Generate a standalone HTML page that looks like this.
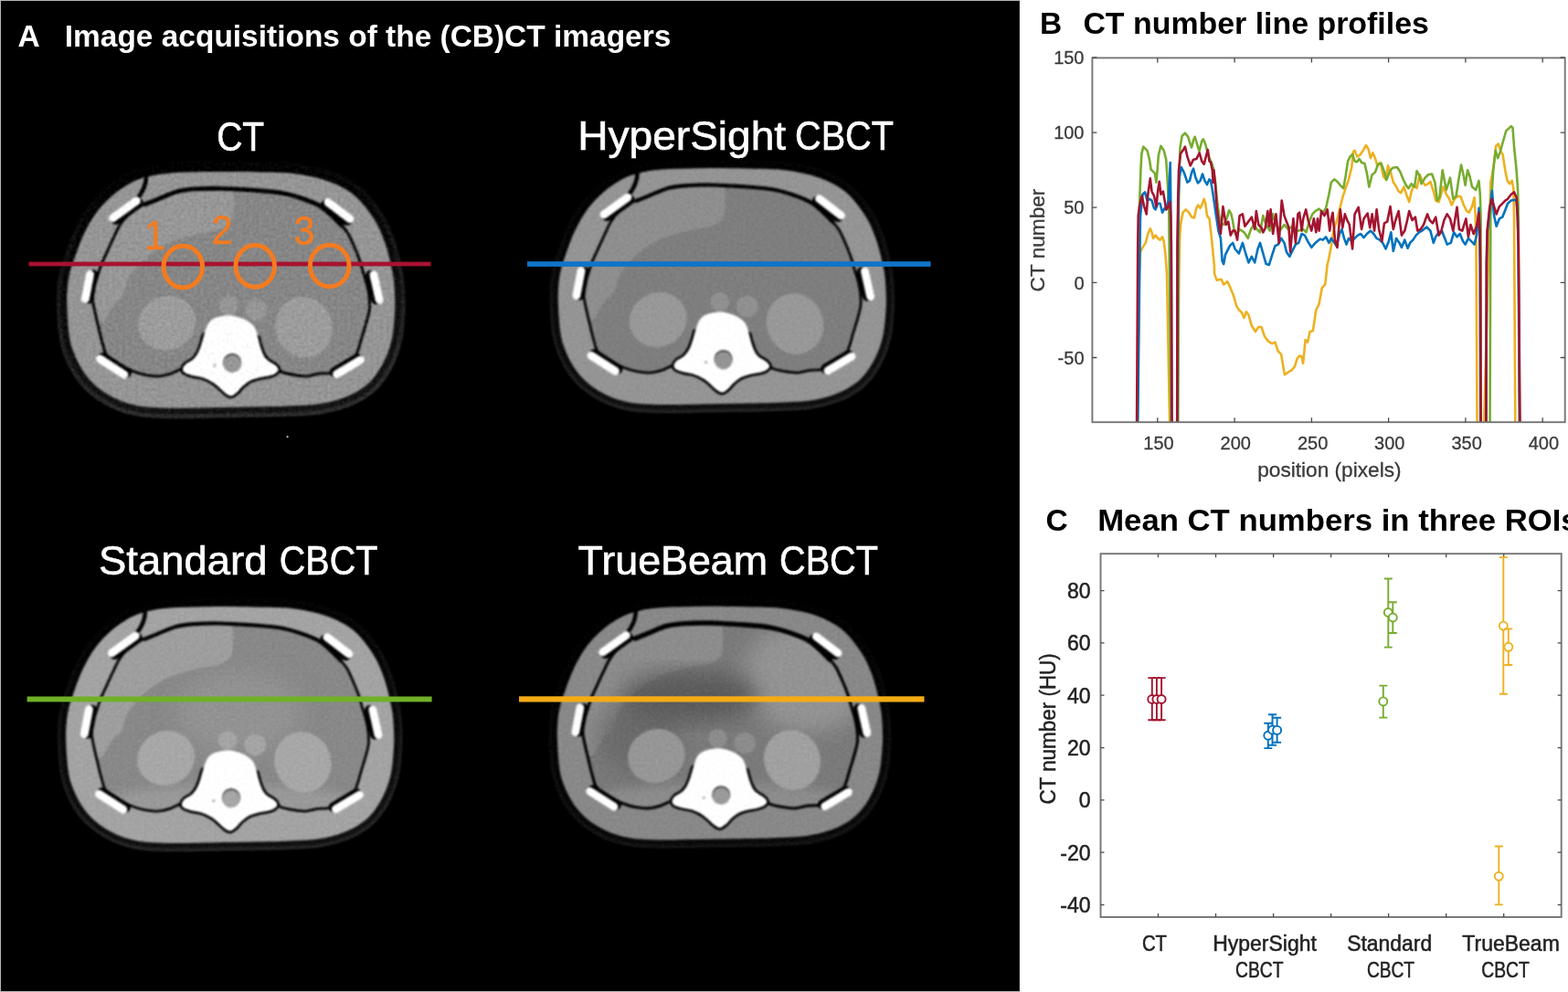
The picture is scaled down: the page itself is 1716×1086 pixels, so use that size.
<!DOCTYPE html>
<html lang="en"><head><meta charset="utf-8"><title>CT number comparison of (CB)CT imagers</title>
<style>html,body{margin:0;padding:0;background:#fff;}body{width:1716px;height:1086px;overflow:hidden;}svg{display:block;}text{font-family:"Liberation Sans",sans-serif;}.tb{font-weight:bold;}.tk{font-size:20px;fill:#3a3a3a;stroke:#3a3a3a;stroke-width:0.3px;}.lb{font-size:22.5px;fill:#3a3a3a;stroke:#3a3a3a;stroke-width:0.3px;}.ck{font-size:23px;fill:#222;stroke:#222;stroke-width:0.5px;}</style></head><body>
<svg width="1716" height="1086" viewBox="0 0 1716 1086">
<defs>
<filter id="pb1" x="-5%" y="-5%" width="110%" height="110%" color-interpolation-filters="sRGB"><feGaussianBlur stdDeviation="0.85" result="b"/><feTurbulence type="fractalNoise" baseFrequency="0.28" numOctaves="2" seed="3" result="t"/><feColorMatrix in="t" type="matrix" values="0.6 0.4 0 0 0  0.6 0.4 0 0 0  0.6 0.4 0 0 0  0 0 0 0 1" result="n"/><feComposite in="b" in2="n" operator="arithmetic" k1="0" k2="1" k3="0.17" k4="-0.085" result="c"/><feComposite in="c" in2="b" operator="in"/></filter>
<filter id="pb2" x="-5%" y="-5%" width="110%" height="110%" color-interpolation-filters="sRGB"><feGaussianBlur stdDeviation="0.85" result="b"/><feTurbulence type="fractalNoise" baseFrequency="0.3" numOctaves="2" seed="7" result="t"/><feColorMatrix in="t" type="matrix" values="0.6 0.4 0 0 0  0.6 0.4 0 0 0  0.6 0.4 0 0 0  0 0 0 0 1" result="n"/><feComposite in="b" in2="n" operator="arithmetic" k1="0" k2="1" k3="0.09" k4="-0.045" result="c"/><feComposite in="c" in2="b" operator="in"/></filter>
<filter id="pb3" x="-5%" y="-5%" width="110%" height="110%" color-interpolation-filters="sRGB"><feGaussianBlur stdDeviation="0.85" result="b"/><feTurbulence type="fractalNoise" baseFrequency="0.3" numOctaves="2" seed="11" result="t"/><feColorMatrix in="t" type="matrix" values="0.6 0.4 0 0 0  0.6 0.4 0 0 0  0.6 0.4 0 0 0  0 0 0 0 1" result="n"/><feComposite in="b" in2="n" operator="arithmetic" k1="0" k2="1" k3="0.09" k4="-0.045" result="c"/><feComposite in="c" in2="b" operator="in"/></filter>
<filter id="pb4" x="-5%" y="-5%" width="110%" height="110%" color-interpolation-filters="sRGB"><feGaussianBlur stdDeviation="0.95" result="b"/><feTurbulence type="fractalNoise" baseFrequency="0.3" numOctaves="2" seed="17" result="t"/><feColorMatrix in="t" type="matrix" values="0.6 0.4 0 0 0  0.6 0.4 0 0 0  0.6 0.4 0 0 0  0 0 0 0 1" result="n"/><feComposite in="b" in2="n" operator="arithmetic" k1="0" k2="1" k3="0.09" k4="-0.045" result="c"/><feComposite in="c" in2="b" operator="in"/></filter>
<filter id="soft" x="-20%" y="-20%" width="140%" height="140%" color-interpolation-filters="sRGB"><feGaussianBlur stdDeviation="12"/></filter>
<filter id="soft2" x="-20%" y="-20%" width="140%" height="140%" color-interpolation-filters="sRGB"><feGaussianBlur stdDeviation="6"/></filter>
<linearGradient id="halo1" x1="0" y1="0" x2="0.2" y2="1"><stop offset="0" stop-color="#000"/><stop offset="0.3" stop-color="#101010"/><stop offset="1" stop-color="#2c2c2c"/></linearGradient>
<linearGradient id="halo2" x1="0" y1="0" x2="0.2" y2="1"><stop offset="0" stop-color="#000"/><stop offset="0.3" stop-color="#0a0a0a"/><stop offset="1" stop-color="#222"/></linearGradient>
<linearGradient id="halo3" x1="0" y1="0" x2="0.2" y2="1"><stop offset="0" stop-color="#000"/><stop offset="0.3" stop-color="#0b0b0b"/><stop offset="1" stop-color="#242424"/></linearGradient>
<linearGradient id="halo4" x1="0" y1="0" x2="0.2" y2="1"><stop offset="0" stop-color="#000"/><stop offset="0.3" stop-color="#040404"/><stop offset="1" stop-color="#141414"/></linearGradient>
<clipPath id="cpB"><rect x="1196" y="64" width="516" height="398"/></clipPath>
</defs>
<rect width="1716" height="1086" fill="#fff"/>
<rect x="0" y="0" width="1116" height="1086" fill="#b4b4b4"/>
<rect x="1" y="1" width="1114.8" height="1084" fill="#000"/>
<circle cx="314.6" cy="478.2" r="1.1" fill="#bbb"/>
<g transform="translate(-537.5 3.8)" filter="url(#pb1)">
<clipPath id="in1"><path d="M690 222C693.1 220.1 693.3 221 696.7 219.7C700.1 218.4 704.8 216.5 710.5 214.2C716.2 211.9 724.3 207.8 731.2 205.9C738.1 204.1 743.8 203.7 751.9 203.1C760 202.5 771.6 202.4 779.6 202.5C787.6 202.6 793.7 203.2 800 203.5C806.3 203.8 810.1 203.9 817.6 204.5C825.1 205.1 837.1 205.9 845.2 207.3C853.3 208.7 859.1 210.5 866 212.8C872.9 215.1 881 217.9 886.7 221.1C892.5 224.3 896.4 228.5 900.5 232.2C904.6 235.9 908.5 239.9 911.5 243.2C914.5 246.5 916.2 248.1 918.5 252C920.8 255.9 923.3 261.9 925.4 266.7C927.5 271.4 929.3 275.9 930.9 280.5C932.5 285.1 933.6 289.7 935 294.3C936.4 298.9 938.1 303.8 939.2 308.1C940.3 312.4 941 315.5 941.5 320C942 324.5 942.5 329.7 941.9 334.9C941.3 340.1 939.2 346.3 937.8 351.4C936.4 356.4 935 360.6 933.6 365.2C932.2 369.8 931.1 375 929.5 379.1C927.9 383.2 928.1 385.9 924 390C919.9 394.1 911.2 400.9 905 403.5C898.8 406.1 892.1 404.5 886.7 405.3C881.4 406.1 877.5 407.9 872.9 408.1C868.3 408.3 863.7 407.5 859.1 406.7C854.5 405.9 848.4 404.5 845.2 403.2C842 401.9 845 399.4 840 399C835 398.6 827.5 400.7 815 401C802.5 401.3 777.8 401.2 765 401C752.2 400.8 745.3 399.3 738.5 400C731.7 400.7 729 403.9 724.3 405.3C719.6 406.7 715.1 407.9 710.5 408.1C705.9 408.3 701.3 407.6 696.7 406.7C692.1 405.8 687.2 404.2 682.9 402.5C678.6 400.8 675.6 399.2 671 396.5C666.4 393.8 658.5 390.1 655 386C651.5 381.9 651.3 377.3 649.7 372.2C648.1 367.1 647 361.4 645.6 355.6C644.2 349.8 642.5 342.9 641.4 337.6C640.3 332.3 639.2 328.4 639 323.8C638.8 319.2 639.4 313.5 640 310C640.6 306.5 641.4 306.6 642.8 302.6C644.2 298.6 646.2 291.3 648.3 286C650.4 280.7 652.9 275.9 655.2 270.8C657.5 265.7 659.9 260.4 662.2 255.6C664.5 250.8 666.5 245.9 669.1 241.8C671.7 237.7 674.5 234.3 678 231C681.5 227.7 686.9 223.9 690 222Z"/></clipPath>
<clipPath id="bd1"><path d="M610.8 330C610.5 321.2 611 315.8 611.5 310C612 304.2 612.8 299.9 614 295C615.2 290.1 616 287.4 618.5 280.5C621 273.6 624.8 262.1 628.8 253.6C632.8 245 637.7 236.2 642.8 229.2C647.9 222.2 653.3 216.6 659.2 211.4C665.1 206.2 671.9 201.4 678.2 197.8C684.5 194.2 689.5 192 697.2 190C704.9 188 712.9 186.6 724.3 185.6C735.7 184.6 753.1 184.4 765.7 184.2C778.3 184 789 184.1 800 184.2C811 184.3 821.5 184.5 831.4 184.8C841.2 185.1 849.9 185.1 859.1 186.2C868.3 187.3 878.7 189.3 886.7 191.4C894.8 193.5 901 195.9 907.4 199C913.8 202.1 920.1 205.7 925.4 210.1C930.7 214.5 935.1 219.9 939.2 225.2C943.3 230.5 947 235.8 950.2 241.8C953.4 247.8 956.2 254.8 958.5 261.2C960.8 267.6 962.4 273.8 964 280.5C965.6 287.2 967.3 294.6 968.2 301.2C969.1 307.8 969.4 313.9 969.6 320C969.8 326.1 970.1 330.1 969.6 337.6C969.1 345.1 968.4 356.9 966.8 365.2C965.2 373.5 962.9 380.4 959.9 387.3C956.9 394.2 952.9 401.2 948.8 406.7C944.6 412.2 940.8 416.4 935 420.5C929.2 424.6 922.3 428.5 914.3 431.5C906.2 434.5 898.2 436.9 886.7 438.5C875.2 440.1 861.3 440.4 845.2 441C829.1 441.6 807.9 441.7 790 442C772.1 442.3 752.5 442.9 738.1 443C723.7 443.1 713.3 443.1 703.6 442.3C693.9 441.6 687.5 440.5 680.1 438.5C672.7 436.5 665.9 433.7 659.4 430.2C652.9 426.7 646.7 422.5 641.4 417.7C636.1 412.9 631.5 407.2 627.6 401.2C623.7 395.2 620.4 388.2 618 381.8C615.6 375.4 614.3 371.1 613.1 362.5C611.9 353.9 611.1 338.8 610.8 330Z"/></clipPath>
<path d="M610.8 330C610.5 321.2 611 315.8 611.5 310C612 304.2 612.8 299.9 614 295C615.2 290.1 616 287.4 618.5 280.5C621 273.6 624.8 262.1 628.8 253.6C632.8 245 637.7 236.2 642.8 229.2C647.9 222.2 653.3 216.6 659.2 211.4C665.1 206.2 671.9 201.4 678.2 197.8C684.5 194.2 689.5 192 697.2 190C704.9 188 712.9 186.6 724.3 185.6C735.7 184.6 753.1 184.4 765.7 184.2C778.3 184 789 184.1 800 184.2C811 184.3 821.5 184.5 831.4 184.8C841.2 185.1 849.9 185.1 859.1 186.2C868.3 187.3 878.7 189.3 886.7 191.4C894.8 193.5 901 195.9 907.4 199C913.8 202.1 920.1 205.7 925.4 210.1C930.7 214.5 935.1 219.9 939.2 225.2C943.3 230.5 947 235.8 950.2 241.8C953.4 247.8 956.2 254.8 958.5 261.2C960.8 267.6 962.4 273.8 964 280.5C965.6 287.2 967.3 294.6 968.2 301.2C969.1 307.8 969.4 313.9 969.6 320C969.8 326.1 970.1 330.1 969.6 337.6C969.1 345.1 968.4 356.9 966.8 365.2C965.2 373.5 962.9 380.4 959.9 387.3C956.9 394.2 952.9 401.2 948.8 406.7C944.6 412.2 940.8 416.4 935 420.5C929.2 424.6 922.3 428.5 914.3 431.5C906.2 434.5 898.2 436.9 886.7 438.5C875.2 440.1 861.3 440.4 845.2 441C829.1 441.6 807.9 441.7 790 442C772.1 442.3 752.5 442.9 738.1 443C723.7 443.1 713.3 443.1 703.6 442.3C693.9 441.6 687.5 440.5 680.1 438.5C672.7 436.5 665.9 433.7 659.4 430.2C652.9 426.7 646.7 422.5 641.4 417.7C636.1 412.9 631.5 407.2 627.6 401.2C623.7 395.2 620.4 388.2 618 381.8C615.6 375.4 614.3 371.1 613.1 362.5C611.9 353.9 611.1 338.8 610.8 330Z" fill="none" stroke="url(#halo1)" stroke-width="24" stroke-linejoin="round"/>
<path d="M610.8 330C610.5 321.2 611 315.8 611.5 310C612 304.2 612.8 299.9 614 295C615.2 290.1 616 287.4 618.5 280.5C621 273.6 624.8 262.1 628.8 253.6C632.8 245 637.7 236.2 642.8 229.2C647.9 222.2 653.3 216.6 659.2 211.4C665.1 206.2 671.9 201.4 678.2 197.8C684.5 194.2 689.5 192 697.2 190C704.9 188 712.9 186.6 724.3 185.6C735.7 184.6 753.1 184.4 765.7 184.2C778.3 184 789 184.1 800 184.2C811 184.3 821.5 184.5 831.4 184.8C841.2 185.1 849.9 185.1 859.1 186.2C868.3 187.3 878.7 189.3 886.7 191.4C894.8 193.5 901 195.9 907.4 199C913.8 202.1 920.1 205.7 925.4 210.1C930.7 214.5 935.1 219.9 939.2 225.2C943.3 230.5 947 235.8 950.2 241.8C953.4 247.8 956.2 254.8 958.5 261.2C960.8 267.6 962.4 273.8 964 280.5C965.6 287.2 967.3 294.6 968.2 301.2C969.1 307.8 969.4 313.9 969.6 320C969.8 326.1 970.1 330.1 969.6 337.6C969.1 345.1 968.4 356.9 966.8 365.2C965.2 373.5 962.9 380.4 959.9 387.3C956.9 394.2 952.9 401.2 948.8 406.7C944.6 412.2 940.8 416.4 935 420.5C929.2 424.6 922.3 428.5 914.3 431.5C906.2 434.5 898.2 436.9 886.7 438.5C875.2 440.1 861.3 440.4 845.2 441C829.1 441.6 807.9 441.7 790 442C772.1 442.3 752.5 442.9 738.1 443C723.7 443.1 713.3 443.1 703.6 442.3C693.9 441.6 687.5 440.5 680.1 438.5C672.7 436.5 665.9 433.7 659.4 430.2C652.9 426.7 646.7 422.5 641.4 417.7C636.1 412.9 631.5 407.2 627.6 401.2C623.7 395.2 620.4 388.2 618 381.8C615.6 375.4 614.3 371.1 613.1 362.5C611.9 353.9 611.1 338.8 610.8 330Z" fill="none" stroke="#000" stroke-opacity="0.55" stroke-width="13.2" stroke-linejoin="round"/>
<path d="M610.8 330C610.5 321.2 611 315.8 611.5 310C612 304.2 612.8 299.9 614 295C615.2 290.1 616 287.4 618.5 280.5C621 273.6 624.8 262.1 628.8 253.6C632.8 245 637.7 236.2 642.8 229.2C647.9 222.2 653.3 216.6 659.2 211.4C665.1 206.2 671.9 201.4 678.2 197.8C684.5 194.2 689.5 192 697.2 190C704.9 188 712.9 186.6 724.3 185.6C735.7 184.6 753.1 184.4 765.7 184.2C778.3 184 789 184.1 800 184.2C811 184.3 821.5 184.5 831.4 184.8C841.2 185.1 849.9 185.1 859.1 186.2C868.3 187.3 878.7 189.3 886.7 191.4C894.8 193.5 901 195.9 907.4 199C913.8 202.1 920.1 205.7 925.4 210.1C930.7 214.5 935.1 219.9 939.2 225.2C943.3 230.5 947 235.8 950.2 241.8C953.4 247.8 956.2 254.8 958.5 261.2C960.8 267.6 962.4 273.8 964 280.5C965.6 287.2 967.3 294.6 968.2 301.2C969.1 307.8 969.4 313.9 969.6 320C969.8 326.1 970.1 330.1 969.6 337.6C969.1 345.1 968.4 356.9 966.8 365.2C965.2 373.5 962.9 380.4 959.9 387.3C956.9 394.2 952.9 401.2 948.8 406.7C944.6 412.2 940.8 416.4 935 420.5C929.2 424.6 922.3 428.5 914.3 431.5C906.2 434.5 898.2 436.9 886.7 438.5C875.2 440.1 861.3 440.4 845.2 441C829.1 441.6 807.9 441.7 790 442C772.1 442.3 752.5 442.9 738.1 443C723.7 443.1 713.3 443.1 703.6 442.3C693.9 441.6 687.5 440.5 680.1 438.5C672.7 436.5 665.9 433.7 659.4 430.2C652.9 426.7 646.7 422.5 641.4 417.7C636.1 412.9 631.5 407.2 627.6 401.2C623.7 395.2 620.4 388.2 618 381.8C615.6 375.4 614.3 371.1 613.1 362.5C611.9 353.9 611.1 338.8 610.8 330Z" fill="#959595"/>
<g clip-path="url(#bd1)"></g>
<path d="M690 222C693.1 220.1 693.3 221 696.7 219.7C700.1 218.4 704.8 216.5 710.5 214.2C716.2 211.9 724.3 207.8 731.2 205.9C738.1 204.1 743.8 203.7 751.9 203.1C760 202.5 771.6 202.4 779.6 202.5C787.6 202.6 793.7 203.2 800 203.5C806.3 203.8 810.1 203.9 817.6 204.5C825.1 205.1 837.1 205.9 845.2 207.3C853.3 208.7 859.1 210.5 866 212.8C872.9 215.1 881 217.9 886.7 221.1C892.5 224.3 896.4 228.5 900.5 232.2C904.6 235.9 908.5 239.9 911.5 243.2C914.5 246.5 916.2 248.1 918.5 252C920.8 255.9 923.3 261.9 925.4 266.7C927.5 271.4 929.3 275.9 930.9 280.5C932.5 285.1 933.6 289.7 935 294.3C936.4 298.9 938.1 303.8 939.2 308.1C940.3 312.4 941 315.5 941.5 320C942 324.5 942.5 329.7 941.9 334.9C941.3 340.1 939.2 346.3 937.8 351.4C936.4 356.4 935 360.6 933.6 365.2C932.2 369.8 931.1 375 929.5 379.1C927.9 383.2 928.1 385.9 924 390C919.9 394.1 911.2 400.9 905 403.5C898.8 406.1 892.1 404.5 886.7 405.3C881.4 406.1 877.5 407.9 872.9 408.1C868.3 408.3 863.7 407.5 859.1 406.7C854.5 405.9 848.4 404.5 845.2 403.2C842 401.9 845 399.4 840 399C835 398.6 827.5 400.7 815 401C802.5 401.3 777.8 401.2 765 401C752.2 400.8 745.3 399.3 738.5 400C731.7 400.7 729 403.9 724.3 405.3C719.6 406.7 715.1 407.9 710.5 408.1C705.9 408.3 701.3 407.6 696.7 406.7C692.1 405.8 687.2 404.2 682.9 402.5C678.6 400.8 675.6 399.2 671 396.5C666.4 393.8 658.5 390.1 655 386C651.5 381.9 651.3 377.3 649.7 372.2C648.1 367.1 647 361.4 645.6 355.6C644.2 349.8 642.5 342.9 641.4 337.6C640.3 332.3 639.2 328.4 639 323.8C638.8 319.2 639.4 313.5 640 310C640.6 306.5 641.4 306.6 642.8 302.6C644.2 298.6 646.2 291.3 648.3 286C650.4 280.7 652.9 275.9 655.2 270.8C657.5 265.7 659.9 260.4 662.2 255.6C664.5 250.8 666.5 245.9 669.1 241.8C671.7 237.7 674.5 234.3 678 231C681.5 227.7 686.9 223.9 690 222Z" fill="#868686"/>
<g clip-path="url(#in1)">
<path d="M789.5 198C795.1 203.9 793.2 218.3 793.4 225.2C793.6 232 792.9 235.4 790.6 239.1C788.3 242.8 786.1 245 779.6 247.3C773.1 249.6 761.1 250.6 751.9 252.9C742.7 255.2 732.3 257.8 724.3 261.2C716.2 264.6 709.6 269.2 703.6 273.6C697.6 278 692.8 282.6 688.4 287.4C684 292.2 680.1 297.2 677.3 302.6C674.5 308 674.3 315.6 671.8 320C669.3 324.4 665 325.6 662.2 329C659.4 332.4 657.4 337.1 655.2 340.4C653 343.7 653.2 347.1 649 349C644.8 350.9 633.2 378.5 630 352C626.8 325.5 608.3 217 630 190C651.7 163 733.4 188.7 760 190C786.6 191.3 783.9 192.1 789.5 198Z" fill="#979797"/>

<ellipse cx="720.2" cy="350" rx="32" ry="29.5" fill="#9c9c9c" transform="rotate(-25 720.2 350)"/>
<ellipse cx="870" cy="354.5" rx="31" ry="33.5" fill="#9c9c9c" transform="rotate(-20 870 354.5)"/>
<circle cx="787.8" cy="330.5" r="10.4" fill="#969696"/>
<circle cx="817.8" cy="335.6" r="11.8" fill="#969696"/>
</g>
<path d="M690 222C693.1 220.1 693.3 221 696.7 219.7C700.1 218.4 704.8 216.5 710.5 214.2C716.2 211.9 724.3 207.8 731.2 205.9C738.1 204.1 743.8 203.7 751.9 203.1C760 202.5 771.6 202.4 779.6 202.5C787.6 202.6 793.7 203.2 800 203.5C806.3 203.8 810.1 203.9 817.6 204.5C825.1 205.1 837.1 205.9 845.2 207.3C853.3 208.7 859.1 210.5 866 212.8C872.9 215.1 881 217.9 886.7 221.1C892.5 224.3 896.4 228.5 900.5 232.2C904.6 235.9 908.5 239.9 911.5 243.2C914.5 246.5 916.2 248.1 918.5 252C920.8 255.9 923.3 261.9 925.4 266.7C927.5 271.4 929.3 275.9 930.9 280.5C932.5 285.1 933.6 289.7 935 294.3C936.4 298.9 938.1 303.8 939.2 308.1C940.3 312.4 941 315.5 941.5 320C942 324.5 942.5 329.7 941.9 334.9C941.3 340.1 939.2 346.3 937.8 351.4C936.4 356.4 935 360.6 933.6 365.2C932.2 369.8 931.1 375 929.5 379.1C927.9 383.2 928.1 385.9 924 390C919.9 394.1 911.2 400.9 905 403.5C898.8 406.1 892.1 404.5 886.7 405.3C881.4 406.1 877.5 407.9 872.9 408.1C868.3 408.3 863.7 407.5 859.1 406.7C854.5 405.9 848.4 404.5 845.2 403.2C842 401.9 845 399.4 840 399C835 398.6 827.5 400.7 815 401C802.5 401.3 777.8 401.2 765 401C752.2 400.8 745.3 399.3 738.5 400C731.7 400.7 729 403.9 724.3 405.3C719.6 406.7 715.1 407.9 710.5 408.1C705.9 408.3 701.3 407.6 696.7 406.7C692.1 405.8 687.2 404.2 682.9 402.5C678.6 400.8 675.6 399.2 671 396.5C666.4 393.8 658.5 390.1 655 386C651.5 381.9 651.3 377.3 649.7 372.2C648.1 367.1 647 361.4 645.6 355.6C644.2 349.8 642.5 342.9 641.4 337.6C640.3 332.3 639.2 328.4 639 323.8C638.8 319.2 639.4 313.5 640 310C640.6 306.5 641.4 306.6 642.8 302.6C644.2 298.6 646.2 291.3 648.3 286C650.4 280.7 652.9 275.9 655.2 270.8C657.5 265.7 659.9 260.4 662.2 255.6C664.5 250.8 666.5 245.9 669.1 241.8C671.7 237.7 674.5 234.3 678 231C681.5 227.7 686.9 223.9 690 222Z" fill="none" stroke="#000" stroke-width="3" stroke-linejoin="round"/>
<path d="M696.7 219.7C699 218.8 704.8 216.5 710.5 214.2C716.2 211.9 724.3 207.8 731.2 205.9C738.1 204.1 743.8 203.7 751.9 203.1C760 202.5 771.6 202.4 779.6 202.5C787.6 202.6 793.7 203.2 800 203.5C806.3 203.8 810.1 203.9 817.6 204.5C825.1 205.1 837.1 205.9 845.2 207.3C853.3 208.7 859.1 210.5 866 212.8C872.9 215.1 881 217.9 886.7 221.1C892.5 224.3 896.4 228.5 900.5 232.2C904.6 235.9 909.7 241.4 911.5 243.2" fill="none" stroke="#000" stroke-width="4.8" stroke-linecap="round"/>
<path d="M697.5 189.5C697.5 198 694.5 205 688.5 213" fill="none" stroke="#000" stroke-width="4.6" stroke-linecap="round"/>
<path d="M664.2 236.6L689.2 218.6" stroke="#000" stroke-width="11" stroke-linecap="round" fill="none"/>
<path d="M894.3 220L917.3 237.5" stroke="#000" stroke-width="11" stroke-linecap="round" fill="none"/>
<path d="M639.4 297.1L634.4 323.1" stroke="#000" stroke-width="11" stroke-linecap="round" fill="none"/>
<path d="M943.1 297.6L949.1 324.1" stroke="#000" stroke-width="11" stroke-linecap="round" fill="none"/>
<path d="M650.4 387.7L675.9 404.2" stroke="#000" stroke-width="11" stroke-linecap="round" fill="none"/>
<path d="M903.6 403.7L928.6 388.7" stroke="#000" stroke-width="11" stroke-linecap="round" fill="none"/>
<path d="M661 234.9L687 216.1" stroke="#fff" stroke-width="8.8" stroke-linecap="round" fill="none"/>
<path d="M896.5 217.6L920.5 235.9" stroke="#fff" stroke-width="8.8" stroke-linecap="round" fill="none"/>
<path d="M636.1 296.4L630.9 323.6" stroke="#fff" stroke-width="8.8" stroke-linecap="round" fill="none"/>
<path d="M946.4 296.9L952.6 324.6" stroke="#fff" stroke-width="8.8" stroke-linecap="round" fill="none"/>
<path d="M647 389.2L673.5 406.3" stroke="#fff" stroke-width="8.8" stroke-linecap="round" fill="none"/>
<path d="M906 405.8L932 390.2" stroke="#fff" stroke-width="8.8" stroke-linecap="round" fill="none"/>
<path d="M819.8 366C820.1 367.3 820.9 371.2 821.8 374C822.7 376.8 823.7 380.3 825 383C826.3 385.7 827.2 387.8 829.5 390C831.8 392.2 836.9 394.4 839 396.3C841.1 398.2 842.2 400 842 401.5C841.8 403 839.8 404.4 838 405.5C836.2 406.6 834.4 407.1 831.4 407.8C828.4 408.6 823.5 409.1 820 410C816.5 410.9 813.5 411.8 810.7 413.3C807.9 414.8 805.3 417 803 419C800.7 421 799.1 423.7 797 425.5C794.9 427.3 792.7 429.4 790.5 429.6C788.3 429.8 786.2 428.1 784 426.5C781.8 424.9 779.4 422 777 420C774.6 418 772.9 416.3 769.9 414.5C766.9 412.7 762.4 410.6 758.8 409.4C755.1 408.2 751.2 408.2 748 407.3C744.8 406.4 741.2 405.2 739.5 404C737.8 402.8 737.4 401.4 737.6 399.8C737.9 398.2 739.2 396.2 741 394.6C742.8 393 746.3 391.9 748.5 390C750.7 388.1 752.4 385.8 754 383C755.6 380.2 756.9 376.3 758 373C759.1 369.7 760.3 364.7 760.8 363" fill="none" stroke="#000" stroke-width="5.6" stroke-linejoin="round" stroke-linecap="round"/>
<path d="M772.7 344.5C775 343.6 778 342.8 781 342.3C784 341.8 786.7 341.1 790.5 341.6C794.3 342.1 800 343.6 803.8 345.2C807.6 346.8 811.2 349.3 813.5 351.4C815.8 353.5 816.6 355.6 817.6 358C818.6 360.4 819.1 363.3 819.8 366C820.5 368.7 820.9 371.2 821.8 374C822.7 376.8 823.7 380.3 825 383C826.3 385.7 827.2 387.8 829.5 390C831.8 392.2 836.9 394.4 839 396.3C841.1 398.2 842.2 400 842 401.5C841.8 403 839.8 404.4 838 405.5C836.2 406.6 834.4 407.1 831.4 407.8C828.4 408.6 823.5 409.1 820 410C816.5 410.9 813.5 411.8 810.7 413.3C807.9 414.8 805.3 417 803 419C800.7 421 799.1 423.7 797 425.5C794.9 427.3 792.7 429.4 790.5 429.6C788.3 429.8 786.2 428.1 784 426.5C781.8 424.9 779.4 422 777 420C774.6 418 772.9 416.3 769.9 414.5C766.9 412.7 762.4 410.6 758.8 409.4C755.1 408.2 751.2 408.2 748 407.3C744.8 406.4 741.2 405.2 739.5 404C737.8 402.8 737.4 401.4 737.6 399.8C737.9 398.2 739.2 396.2 741 394.6C742.8 393 746.3 391.9 748.5 390C750.7 388.1 752.4 385.8 754 383C755.6 380.2 756.9 376.3 758 373C759.1 369.7 759.8 366.2 760.8 363C761.8 359.8 762.9 356 764 353.5C765.1 351 766 349.5 767.5 348C769 346.5 770.5 345.4 772.7 344.5Z" fill="#fff"/>
<circle cx="791.6" cy="393.2" r="10.2" fill="#4a4a4a"/>
<circle cx="791.6" cy="394.6" r="9.6" fill="#969696"/>
<circle cx="772.5" cy="396.5" r="1.6" fill="#aaa"/>
</g>
<g transform="translate(0 0)" filter="url(#pb2)">
<clipPath id="in2"><path d="M690 222C693.1 220.1 693.3 221 696.7 219.7C700.1 218.4 704.8 216.5 710.5 214.2C716.2 211.9 724.3 207.8 731.2 205.9C738.1 204.1 743.8 203.7 751.9 203.1C760 202.5 771.6 202.4 779.6 202.5C787.6 202.6 793.7 203.2 800 203.5C806.3 203.8 810.1 203.9 817.6 204.5C825.1 205.1 837.1 205.9 845.2 207.3C853.3 208.7 859.1 210.5 866 212.8C872.9 215.1 881 217.9 886.7 221.1C892.5 224.3 896.4 228.5 900.5 232.2C904.6 235.9 908.5 239.9 911.5 243.2C914.5 246.5 916.2 248.1 918.5 252C920.8 255.9 923.3 261.9 925.4 266.7C927.5 271.4 929.3 275.9 930.9 280.5C932.5 285.1 933.6 289.7 935 294.3C936.4 298.9 938.1 303.8 939.2 308.1C940.3 312.4 941 315.5 941.5 320C942 324.5 942.5 329.7 941.9 334.9C941.3 340.1 939.2 346.3 937.8 351.4C936.4 356.4 935 360.6 933.6 365.2C932.2 369.8 931.1 375 929.5 379.1C927.9 383.2 928.1 385.9 924 390C919.9 394.1 911.2 400.9 905 403.5C898.8 406.1 892.1 404.5 886.7 405.3C881.4 406.1 877.5 407.9 872.9 408.1C868.3 408.3 863.7 407.5 859.1 406.7C854.5 405.9 848.4 404.5 845.2 403.2C842 401.9 845 399.4 840 399C835 398.6 827.5 400.7 815 401C802.5 401.3 777.8 401.2 765 401C752.2 400.8 745.3 399.3 738.5 400C731.7 400.7 729 403.9 724.3 405.3C719.6 406.7 715.1 407.9 710.5 408.1C705.9 408.3 701.3 407.6 696.7 406.7C692.1 405.8 687.2 404.2 682.9 402.5C678.6 400.8 675.6 399.2 671 396.5C666.4 393.8 658.5 390.1 655 386C651.5 381.9 651.3 377.3 649.7 372.2C648.1 367.1 647 361.4 645.6 355.6C644.2 349.8 642.5 342.9 641.4 337.6C640.3 332.3 639.2 328.4 639 323.8C638.8 319.2 639.4 313.5 640 310C640.6 306.5 641.4 306.6 642.8 302.6C644.2 298.6 646.2 291.3 648.3 286C650.4 280.7 652.9 275.9 655.2 270.8C657.5 265.7 659.9 260.4 662.2 255.6C664.5 250.8 666.5 245.9 669.1 241.8C671.7 237.7 674.5 234.3 678 231C681.5 227.7 686.9 223.9 690 222Z"/></clipPath>
<clipPath id="bd2"><path d="M610.8 330C610.5 321.2 611 315.8 611.5 310C612 304.2 612.8 299.9 614 295C615.2 290.1 616 287.4 618.5 280.5C621 273.6 624.8 262.1 628.8 253.6C632.8 245 637.7 236.2 642.8 229.2C647.9 222.2 653.3 216.6 659.2 211.4C665.1 206.2 671.9 201.4 678.2 197.8C684.5 194.2 689.5 192 697.2 190C704.9 188 712.9 186.6 724.3 185.6C735.7 184.6 753.1 184.4 765.7 184.2C778.3 184 789 184.1 800 184.2C811 184.3 821.5 184.5 831.4 184.8C841.2 185.1 849.9 185.1 859.1 186.2C868.3 187.3 878.7 189.3 886.7 191.4C894.8 193.5 901 195.9 907.4 199C913.8 202.1 920.1 205.7 925.4 210.1C930.7 214.5 935.1 219.9 939.2 225.2C943.3 230.5 947 235.8 950.2 241.8C953.4 247.8 956.2 254.8 958.5 261.2C960.8 267.6 962.4 273.8 964 280.5C965.6 287.2 967.3 294.6 968.2 301.2C969.1 307.8 969.4 313.9 969.6 320C969.8 326.1 970.1 330.1 969.6 337.6C969.1 345.1 968.4 356.9 966.8 365.2C965.2 373.5 962.9 380.4 959.9 387.3C956.9 394.2 952.9 401.2 948.8 406.7C944.6 412.2 940.8 416.4 935 420.5C929.2 424.6 922.3 428.5 914.3 431.5C906.2 434.5 898.2 436.9 886.7 438.5C875.2 440.1 861.3 440.4 845.2 441C829.1 441.6 807.9 441.7 790 442C772.1 442.3 752.5 442.9 738.1 443C723.7 443.1 713.3 443.1 703.6 442.3C693.9 441.6 687.5 440.5 680.1 438.5C672.7 436.5 665.9 433.7 659.4 430.2C652.9 426.7 646.7 422.5 641.4 417.7C636.1 412.9 631.5 407.2 627.6 401.2C623.7 395.2 620.4 388.2 618 381.8C615.6 375.4 614.3 371.1 613.1 362.5C611.9 353.9 611.1 338.8 610.8 330Z"/></clipPath>
<path d="M610.8 330C610.5 321.2 611 315.8 611.5 310C612 304.2 612.8 299.9 614 295C615.2 290.1 616 287.4 618.5 280.5C621 273.6 624.8 262.1 628.8 253.6C632.8 245 637.7 236.2 642.8 229.2C647.9 222.2 653.3 216.6 659.2 211.4C665.1 206.2 671.9 201.4 678.2 197.8C684.5 194.2 689.5 192 697.2 190C704.9 188 712.9 186.6 724.3 185.6C735.7 184.6 753.1 184.4 765.7 184.2C778.3 184 789 184.1 800 184.2C811 184.3 821.5 184.5 831.4 184.8C841.2 185.1 849.9 185.1 859.1 186.2C868.3 187.3 878.7 189.3 886.7 191.4C894.8 193.5 901 195.9 907.4 199C913.8 202.1 920.1 205.7 925.4 210.1C930.7 214.5 935.1 219.9 939.2 225.2C943.3 230.5 947 235.8 950.2 241.8C953.4 247.8 956.2 254.8 958.5 261.2C960.8 267.6 962.4 273.8 964 280.5C965.6 287.2 967.3 294.6 968.2 301.2C969.1 307.8 969.4 313.9 969.6 320C969.8 326.1 970.1 330.1 969.6 337.6C969.1 345.1 968.4 356.9 966.8 365.2C965.2 373.5 962.9 380.4 959.9 387.3C956.9 394.2 952.9 401.2 948.8 406.7C944.6 412.2 940.8 416.4 935 420.5C929.2 424.6 922.3 428.5 914.3 431.5C906.2 434.5 898.2 436.9 886.7 438.5C875.2 440.1 861.3 440.4 845.2 441C829.1 441.6 807.9 441.7 790 442C772.1 442.3 752.5 442.9 738.1 443C723.7 443.1 713.3 443.1 703.6 442.3C693.9 441.6 687.5 440.5 680.1 438.5C672.7 436.5 665.9 433.7 659.4 430.2C652.9 426.7 646.7 422.5 641.4 417.7C636.1 412.9 631.5 407.2 627.6 401.2C623.7 395.2 620.4 388.2 618 381.8C615.6 375.4 614.3 371.1 613.1 362.5C611.9 353.9 611.1 338.8 610.8 330Z" fill="none" stroke="url(#halo2)" stroke-width="20" stroke-linejoin="round"/>
<path d="M610.8 330C610.5 321.2 611 315.8 611.5 310C612 304.2 612.8 299.9 614 295C615.2 290.1 616 287.4 618.5 280.5C621 273.6 624.8 262.1 628.8 253.6C632.8 245 637.7 236.2 642.8 229.2C647.9 222.2 653.3 216.6 659.2 211.4C665.1 206.2 671.9 201.4 678.2 197.8C684.5 194.2 689.5 192 697.2 190C704.9 188 712.9 186.6 724.3 185.6C735.7 184.6 753.1 184.4 765.7 184.2C778.3 184 789 184.1 800 184.2C811 184.3 821.5 184.5 831.4 184.8C841.2 185.1 849.9 185.1 859.1 186.2C868.3 187.3 878.7 189.3 886.7 191.4C894.8 193.5 901 195.9 907.4 199C913.8 202.1 920.1 205.7 925.4 210.1C930.7 214.5 935.1 219.9 939.2 225.2C943.3 230.5 947 235.8 950.2 241.8C953.4 247.8 956.2 254.8 958.5 261.2C960.8 267.6 962.4 273.8 964 280.5C965.6 287.2 967.3 294.6 968.2 301.2C969.1 307.8 969.4 313.9 969.6 320C969.8 326.1 970.1 330.1 969.6 337.6C969.1 345.1 968.4 356.9 966.8 365.2C965.2 373.5 962.9 380.4 959.9 387.3C956.9 394.2 952.9 401.2 948.8 406.7C944.6 412.2 940.8 416.4 935 420.5C929.2 424.6 922.3 428.5 914.3 431.5C906.2 434.5 898.2 436.9 886.7 438.5C875.2 440.1 861.3 440.4 845.2 441C829.1 441.6 807.9 441.7 790 442C772.1 442.3 752.5 442.9 738.1 443C723.7 443.1 713.3 443.1 703.6 442.3C693.9 441.6 687.5 440.5 680.1 438.5C672.7 436.5 665.9 433.7 659.4 430.2C652.9 426.7 646.7 422.5 641.4 417.7C636.1 412.9 631.5 407.2 627.6 401.2C623.7 395.2 620.4 388.2 618 381.8C615.6 375.4 614.3 371.1 613.1 362.5C611.9 353.9 611.1 338.8 610.8 330Z" fill="none" stroke="#000" stroke-opacity="0.55" stroke-width="11" stroke-linejoin="round"/>
<path d="M610.8 330C610.5 321.2 611 315.8 611.5 310C612 304.2 612.8 299.9 614 295C615.2 290.1 616 287.4 618.5 280.5C621 273.6 624.8 262.1 628.8 253.6C632.8 245 637.7 236.2 642.8 229.2C647.9 222.2 653.3 216.6 659.2 211.4C665.1 206.2 671.9 201.4 678.2 197.8C684.5 194.2 689.5 192 697.2 190C704.9 188 712.9 186.6 724.3 185.6C735.7 184.6 753.1 184.4 765.7 184.2C778.3 184 789 184.1 800 184.2C811 184.3 821.5 184.5 831.4 184.8C841.2 185.1 849.9 185.1 859.1 186.2C868.3 187.3 878.7 189.3 886.7 191.4C894.8 193.5 901 195.9 907.4 199C913.8 202.1 920.1 205.7 925.4 210.1C930.7 214.5 935.1 219.9 939.2 225.2C943.3 230.5 947 235.8 950.2 241.8C953.4 247.8 956.2 254.8 958.5 261.2C960.8 267.6 962.4 273.8 964 280.5C965.6 287.2 967.3 294.6 968.2 301.2C969.1 307.8 969.4 313.9 969.6 320C969.8 326.1 970.1 330.1 969.6 337.6C969.1 345.1 968.4 356.9 966.8 365.2C965.2 373.5 962.9 380.4 959.9 387.3C956.9 394.2 952.9 401.2 948.8 406.7C944.6 412.2 940.8 416.4 935 420.5C929.2 424.6 922.3 428.5 914.3 431.5C906.2 434.5 898.2 436.9 886.7 438.5C875.2 440.1 861.3 440.4 845.2 441C829.1 441.6 807.9 441.7 790 442C772.1 442.3 752.5 442.9 738.1 443C723.7 443.1 713.3 443.1 703.6 442.3C693.9 441.6 687.5 440.5 680.1 438.5C672.7 436.5 665.9 433.7 659.4 430.2C652.9 426.7 646.7 422.5 641.4 417.7C636.1 412.9 631.5 407.2 627.6 401.2C623.7 395.2 620.4 388.2 618 381.8C615.6 375.4 614.3 371.1 613.1 362.5C611.9 353.9 611.1 338.8 610.8 330Z" fill="#949494"/>
<g clip-path="url(#bd2)"></g>
<path d="M690 222C693.1 220.1 693.3 221 696.7 219.7C700.1 218.4 704.8 216.5 710.5 214.2C716.2 211.9 724.3 207.8 731.2 205.9C738.1 204.1 743.8 203.7 751.9 203.1C760 202.5 771.6 202.4 779.6 202.5C787.6 202.6 793.7 203.2 800 203.5C806.3 203.8 810.1 203.9 817.6 204.5C825.1 205.1 837.1 205.9 845.2 207.3C853.3 208.7 859.1 210.5 866 212.8C872.9 215.1 881 217.9 886.7 221.1C892.5 224.3 896.4 228.5 900.5 232.2C904.6 235.9 908.5 239.9 911.5 243.2C914.5 246.5 916.2 248.1 918.5 252C920.8 255.9 923.3 261.9 925.4 266.7C927.5 271.4 929.3 275.9 930.9 280.5C932.5 285.1 933.6 289.7 935 294.3C936.4 298.9 938.1 303.8 939.2 308.1C940.3 312.4 941 315.5 941.5 320C942 324.5 942.5 329.7 941.9 334.9C941.3 340.1 939.2 346.3 937.8 351.4C936.4 356.4 935 360.6 933.6 365.2C932.2 369.8 931.1 375 929.5 379.1C927.9 383.2 928.1 385.9 924 390C919.9 394.1 911.2 400.9 905 403.5C898.8 406.1 892.1 404.5 886.7 405.3C881.4 406.1 877.5 407.9 872.9 408.1C868.3 408.3 863.7 407.5 859.1 406.7C854.5 405.9 848.4 404.5 845.2 403.2C842 401.9 845 399.4 840 399C835 398.6 827.5 400.7 815 401C802.5 401.3 777.8 401.2 765 401C752.2 400.8 745.3 399.3 738.5 400C731.7 400.7 729 403.9 724.3 405.3C719.6 406.7 715.1 407.9 710.5 408.1C705.9 408.3 701.3 407.6 696.7 406.7C692.1 405.8 687.2 404.2 682.9 402.5C678.6 400.8 675.6 399.2 671 396.5C666.4 393.8 658.5 390.1 655 386C651.5 381.9 651.3 377.3 649.7 372.2C648.1 367.1 647 361.4 645.6 355.6C644.2 349.8 642.5 342.9 641.4 337.6C640.3 332.3 639.2 328.4 639 323.8C638.8 319.2 639.4 313.5 640 310C640.6 306.5 641.4 306.6 642.8 302.6C644.2 298.6 646.2 291.3 648.3 286C650.4 280.7 652.9 275.9 655.2 270.8C657.5 265.7 659.9 260.4 662.2 255.6C664.5 250.8 666.5 245.9 669.1 241.8C671.7 237.7 674.5 234.3 678 231C681.5 227.7 686.9 223.9 690 222Z" fill="#7e7e7e"/>
<g clip-path="url(#in2)">
<path d="M789.5 198C795.1 203.9 793.2 218.3 793.4 225.2C793.6 232 792.9 235.4 790.6 239.1C788.3 242.8 786.1 245 779.6 247.3C773.1 249.6 761.1 250.6 751.9 252.9C742.7 255.2 732.3 257.8 724.3 261.2C716.2 264.6 709.6 269.2 703.6 273.6C697.6 278 692.8 282.6 688.4 287.4C684 292.2 680.1 297.2 677.3 302.6C674.5 308 674.3 315.6 671.8 320C669.3 324.4 665 325.6 662.2 329C659.4 332.4 657.4 337.1 655.2 340.4C653 343.7 653.2 347.1 649 349C644.8 350.9 633.2 378.5 630 352C626.8 325.5 608.3 217 630 190C651.7 163 733.4 188.7 760 190C786.6 191.3 783.9 192.1 789.5 198Z" fill="#8e8e8e"/>

<ellipse cx="720.2" cy="350" rx="32" ry="29.5" fill="#989898" transform="rotate(-25 720.2 350)"/>
<ellipse cx="870" cy="354.5" rx="31" ry="33.5" fill="#989898" transform="rotate(-20 870 354.5)"/>
<circle cx="787.8" cy="330.5" r="10.4" fill="#909090"/>
<circle cx="817.8" cy="335.6" r="11.8" fill="#909090"/>
</g>
<path d="M690 222C693.1 220.1 693.3 221 696.7 219.7C700.1 218.4 704.8 216.5 710.5 214.2C716.2 211.9 724.3 207.8 731.2 205.9C738.1 204.1 743.8 203.7 751.9 203.1C760 202.5 771.6 202.4 779.6 202.5C787.6 202.6 793.7 203.2 800 203.5C806.3 203.8 810.1 203.9 817.6 204.5C825.1 205.1 837.1 205.9 845.2 207.3C853.3 208.7 859.1 210.5 866 212.8C872.9 215.1 881 217.9 886.7 221.1C892.5 224.3 896.4 228.5 900.5 232.2C904.6 235.9 908.5 239.9 911.5 243.2C914.5 246.5 916.2 248.1 918.5 252C920.8 255.9 923.3 261.9 925.4 266.7C927.5 271.4 929.3 275.9 930.9 280.5C932.5 285.1 933.6 289.7 935 294.3C936.4 298.9 938.1 303.8 939.2 308.1C940.3 312.4 941 315.5 941.5 320C942 324.5 942.5 329.7 941.9 334.9C941.3 340.1 939.2 346.3 937.8 351.4C936.4 356.4 935 360.6 933.6 365.2C932.2 369.8 931.1 375 929.5 379.1C927.9 383.2 928.1 385.9 924 390C919.9 394.1 911.2 400.9 905 403.5C898.8 406.1 892.1 404.5 886.7 405.3C881.4 406.1 877.5 407.9 872.9 408.1C868.3 408.3 863.7 407.5 859.1 406.7C854.5 405.9 848.4 404.5 845.2 403.2C842 401.9 845 399.4 840 399C835 398.6 827.5 400.7 815 401C802.5 401.3 777.8 401.2 765 401C752.2 400.8 745.3 399.3 738.5 400C731.7 400.7 729 403.9 724.3 405.3C719.6 406.7 715.1 407.9 710.5 408.1C705.9 408.3 701.3 407.6 696.7 406.7C692.1 405.8 687.2 404.2 682.9 402.5C678.6 400.8 675.6 399.2 671 396.5C666.4 393.8 658.5 390.1 655 386C651.5 381.9 651.3 377.3 649.7 372.2C648.1 367.1 647 361.4 645.6 355.6C644.2 349.8 642.5 342.9 641.4 337.6C640.3 332.3 639.2 328.4 639 323.8C638.8 319.2 639.4 313.5 640 310C640.6 306.5 641.4 306.6 642.8 302.6C644.2 298.6 646.2 291.3 648.3 286C650.4 280.7 652.9 275.9 655.2 270.8C657.5 265.7 659.9 260.4 662.2 255.6C664.5 250.8 666.5 245.9 669.1 241.8C671.7 237.7 674.5 234.3 678 231C681.5 227.7 686.9 223.9 690 222Z" fill="none" stroke="#000" stroke-width="2.8" stroke-linejoin="round"/>
<path d="M696.7 219.7C699 218.8 704.8 216.5 710.5 214.2C716.2 211.9 724.3 207.8 731.2 205.9C738.1 204.1 743.8 203.7 751.9 203.1C760 202.5 771.6 202.4 779.6 202.5C787.6 202.6 793.7 203.2 800 203.5C806.3 203.8 810.1 203.9 817.6 204.5C825.1 205.1 837.1 205.9 845.2 207.3C853.3 208.7 859.1 210.5 866 212.8C872.9 215.1 881 217.9 886.7 221.1C892.5 224.3 896.4 228.5 900.5 232.2C904.6 235.9 909.7 241.4 911.5 243.2" fill="none" stroke="#000" stroke-width="4.2" stroke-linecap="round"/>
<path d="M697.5 189.5C697.5 198 694.5 205 688.5 213" fill="none" stroke="#000" stroke-width="4.6" stroke-linecap="round"/>
<path d="M664.2 236.6L689.2 218.6" stroke="#000" stroke-width="11" stroke-linecap="round" fill="none"/>
<path d="M894.3 220L917.3 237.5" stroke="#000" stroke-width="11" stroke-linecap="round" fill="none"/>
<path d="M639.4 297.1L634.4 323.1" stroke="#000" stroke-width="11" stroke-linecap="round" fill="none"/>
<path d="M943.1 297.6L949.1 324.1" stroke="#000" stroke-width="11" stroke-linecap="round" fill="none"/>
<path d="M650.4 387.7L675.9 404.2" stroke="#000" stroke-width="11" stroke-linecap="round" fill="none"/>
<path d="M903.6 403.7L928.6 388.7" stroke="#000" stroke-width="11" stroke-linecap="round" fill="none"/>
<path d="M661 234.9L687 216.1" stroke="#fff" stroke-width="8.8" stroke-linecap="round" fill="none"/>
<path d="M896.5 217.6L920.5 235.9" stroke="#fff" stroke-width="8.8" stroke-linecap="round" fill="none"/>
<path d="M636.1 296.4L630.9 323.6" stroke="#fff" stroke-width="8.8" stroke-linecap="round" fill="none"/>
<path d="M946.4 296.9L952.6 324.6" stroke="#fff" stroke-width="8.8" stroke-linecap="round" fill="none"/>
<path d="M647 389.2L673.5 406.3" stroke="#fff" stroke-width="8.8" stroke-linecap="round" fill="none"/>
<path d="M906 405.8L932 390.2" stroke="#fff" stroke-width="8.8" stroke-linecap="round" fill="none"/>
<path d="M819.8 366C820.1 367.3 820.9 371.2 821.8 374C822.7 376.8 823.7 380.3 825 383C826.3 385.7 827.2 387.8 829.5 390C831.8 392.2 836.9 394.4 839 396.3C841.1 398.2 842.2 400 842 401.5C841.8 403 839.8 404.4 838 405.5C836.2 406.6 834.4 407.1 831.4 407.8C828.4 408.6 823.5 409.1 820 410C816.5 410.9 813.5 411.8 810.7 413.3C807.9 414.8 805.3 417 803 419C800.7 421 799.1 423.7 797 425.5C794.9 427.3 792.7 429.4 790.5 429.6C788.3 429.8 786.2 428.1 784 426.5C781.8 424.9 779.4 422 777 420C774.6 418 772.9 416.3 769.9 414.5C766.9 412.7 762.4 410.6 758.8 409.4C755.1 408.2 751.2 408.2 748 407.3C744.8 406.4 741.2 405.2 739.5 404C737.8 402.8 737.4 401.4 737.6 399.8C737.9 398.2 739.2 396.2 741 394.6C742.8 393 746.3 391.9 748.5 390C750.7 388.1 752.4 385.8 754 383C755.6 380.2 756.9 376.3 758 373C759.1 369.7 760.3 364.7 760.8 363" fill="none" stroke="#000" stroke-width="5.6" stroke-linejoin="round" stroke-linecap="round"/>
<path d="M772.7 344.5C775 343.6 778 342.8 781 342.3C784 341.8 786.7 341.1 790.5 341.6C794.3 342.1 800 343.6 803.8 345.2C807.6 346.8 811.2 349.3 813.5 351.4C815.8 353.5 816.6 355.6 817.6 358C818.6 360.4 819.1 363.3 819.8 366C820.5 368.7 820.9 371.2 821.8 374C822.7 376.8 823.7 380.3 825 383C826.3 385.7 827.2 387.8 829.5 390C831.8 392.2 836.9 394.4 839 396.3C841.1 398.2 842.2 400 842 401.5C841.8 403 839.8 404.4 838 405.5C836.2 406.6 834.4 407.1 831.4 407.8C828.4 408.6 823.5 409.1 820 410C816.5 410.9 813.5 411.8 810.7 413.3C807.9 414.8 805.3 417 803 419C800.7 421 799.1 423.7 797 425.5C794.9 427.3 792.7 429.4 790.5 429.6C788.3 429.8 786.2 428.1 784 426.5C781.8 424.9 779.4 422 777 420C774.6 418 772.9 416.3 769.9 414.5C766.9 412.7 762.4 410.6 758.8 409.4C755.1 408.2 751.2 408.2 748 407.3C744.8 406.4 741.2 405.2 739.5 404C737.8 402.8 737.4 401.4 737.6 399.8C737.9 398.2 739.2 396.2 741 394.6C742.8 393 746.3 391.9 748.5 390C750.7 388.1 752.4 385.8 754 383C755.6 380.2 756.9 376.3 758 373C759.1 369.7 759.8 366.2 760.8 363C761.8 359.8 762.9 356 764 353.5C765.1 351 766 349.5 767.5 348C769 346.5 770.5 345.4 772.7 344.5Z" fill="#fff"/>
<circle cx="791.6" cy="393.2" r="10.2" fill="#4a4a4a"/>
<circle cx="791.6" cy="394.6" r="9.6" fill="#949494"/>
<circle cx="772.5" cy="396.5" r="1.6" fill="#aaa"/>
</g>
<g transform="translate(-538.6 480)" filter="url(#pb3)">
<clipPath id="in3"><path d="M690 222C693.1 220.1 693.3 221 696.7 219.7C700.1 218.4 704.8 216.5 710.5 214.2C716.2 211.9 724.3 207.8 731.2 205.9C738.1 204.1 743.8 203.7 751.9 203.1C760 202.5 771.6 202.4 779.6 202.5C787.6 202.6 793.7 203.2 800 203.5C806.3 203.8 810.1 203.9 817.6 204.5C825.1 205.1 837.1 205.9 845.2 207.3C853.3 208.7 859.1 210.5 866 212.8C872.9 215.1 881 217.9 886.7 221.1C892.5 224.3 896.4 228.5 900.5 232.2C904.6 235.9 908.5 239.9 911.5 243.2C914.5 246.5 916.2 248.1 918.5 252C920.8 255.9 923.3 261.9 925.4 266.7C927.5 271.4 929.3 275.9 930.9 280.5C932.5 285.1 933.6 289.7 935 294.3C936.4 298.9 938.1 303.8 939.2 308.1C940.3 312.4 941 315.5 941.5 320C942 324.5 942.5 329.7 941.9 334.9C941.3 340.1 939.2 346.3 937.8 351.4C936.4 356.4 935 360.6 933.6 365.2C932.2 369.8 931.1 375 929.5 379.1C927.9 383.2 928.1 385.9 924 390C919.9 394.1 911.2 400.9 905 403.5C898.8 406.1 892.1 404.5 886.7 405.3C881.4 406.1 877.5 407.9 872.9 408.1C868.3 408.3 863.7 407.5 859.1 406.7C854.5 405.9 848.4 404.5 845.2 403.2C842 401.9 845 399.4 840 399C835 398.6 827.5 400.7 815 401C802.5 401.3 777.8 401.2 765 401C752.2 400.8 745.3 399.3 738.5 400C731.7 400.7 729 403.9 724.3 405.3C719.6 406.7 715.1 407.9 710.5 408.1C705.9 408.3 701.3 407.6 696.7 406.7C692.1 405.8 687.2 404.2 682.9 402.5C678.6 400.8 675.6 399.2 671 396.5C666.4 393.8 658.5 390.1 655 386C651.5 381.9 651.3 377.3 649.7 372.2C648.1 367.1 647 361.4 645.6 355.6C644.2 349.8 642.5 342.9 641.4 337.6C640.3 332.3 639.2 328.4 639 323.8C638.8 319.2 639.4 313.5 640 310C640.6 306.5 641.4 306.6 642.8 302.6C644.2 298.6 646.2 291.3 648.3 286C650.4 280.7 652.9 275.9 655.2 270.8C657.5 265.7 659.9 260.4 662.2 255.6C664.5 250.8 666.5 245.9 669.1 241.8C671.7 237.7 674.5 234.3 678 231C681.5 227.7 686.9 223.9 690 222Z"/></clipPath>
<clipPath id="bd3"><path d="M610.8 330C610.5 321.2 611 315.8 611.5 310C612 304.2 612.8 299.9 614 295C615.2 290.1 616 287.4 618.5 280.5C621 273.6 624.8 262.1 628.8 253.6C632.8 245 637.7 236.2 642.8 229.2C647.9 222.2 653.3 216.6 659.2 211.4C665.1 206.2 671.9 201.4 678.2 197.8C684.5 194.2 689.5 192 697.2 190C704.9 188 712.9 186.6 724.3 185.6C735.7 184.6 753.1 184.4 765.7 184.2C778.3 184 789 184.1 800 184.2C811 184.3 821.5 184.5 831.4 184.8C841.2 185.1 849.9 185.1 859.1 186.2C868.3 187.3 878.7 189.3 886.7 191.4C894.8 193.5 901 195.9 907.4 199C913.8 202.1 920.1 205.7 925.4 210.1C930.7 214.5 935.1 219.9 939.2 225.2C943.3 230.5 947 235.8 950.2 241.8C953.4 247.8 956.2 254.8 958.5 261.2C960.8 267.6 962.4 273.8 964 280.5C965.6 287.2 967.3 294.6 968.2 301.2C969.1 307.8 969.4 313.9 969.6 320C969.8 326.1 970.1 330.1 969.6 337.6C969.1 345.1 968.4 356.9 966.8 365.2C965.2 373.5 962.9 380.4 959.9 387.3C956.9 394.2 952.9 401.2 948.8 406.7C944.6 412.2 940.8 416.4 935 420.5C929.2 424.6 922.3 428.5 914.3 431.5C906.2 434.5 898.2 436.9 886.7 438.5C875.2 440.1 861.3 440.4 845.2 441C829.1 441.6 807.9 441.7 790 442C772.1 442.3 752.5 442.9 738.1 443C723.7 443.1 713.3 443.1 703.6 442.3C693.9 441.6 687.5 440.5 680.1 438.5C672.7 436.5 665.9 433.7 659.4 430.2C652.9 426.7 646.7 422.5 641.4 417.7C636.1 412.9 631.5 407.2 627.6 401.2C623.7 395.2 620.4 388.2 618 381.8C615.6 375.4 614.3 371.1 613.1 362.5C611.9 353.9 611.1 338.8 610.8 330Z"/></clipPath>
<path d="M610.8 330C610.5 321.2 611 315.8 611.5 310C612 304.2 612.8 299.9 614 295C615.2 290.1 616 287.4 618.5 280.5C621 273.6 624.8 262.1 628.8 253.6C632.8 245 637.7 236.2 642.8 229.2C647.9 222.2 653.3 216.6 659.2 211.4C665.1 206.2 671.9 201.4 678.2 197.8C684.5 194.2 689.5 192 697.2 190C704.9 188 712.9 186.6 724.3 185.6C735.7 184.6 753.1 184.4 765.7 184.2C778.3 184 789 184.1 800 184.2C811 184.3 821.5 184.5 831.4 184.8C841.2 185.1 849.9 185.1 859.1 186.2C868.3 187.3 878.7 189.3 886.7 191.4C894.8 193.5 901 195.9 907.4 199C913.8 202.1 920.1 205.7 925.4 210.1C930.7 214.5 935.1 219.9 939.2 225.2C943.3 230.5 947 235.8 950.2 241.8C953.4 247.8 956.2 254.8 958.5 261.2C960.8 267.6 962.4 273.8 964 280.5C965.6 287.2 967.3 294.6 968.2 301.2C969.1 307.8 969.4 313.9 969.6 320C969.8 326.1 970.1 330.1 969.6 337.6C969.1 345.1 968.4 356.9 966.8 365.2C965.2 373.5 962.9 380.4 959.9 387.3C956.9 394.2 952.9 401.2 948.8 406.7C944.6 412.2 940.8 416.4 935 420.5C929.2 424.6 922.3 428.5 914.3 431.5C906.2 434.5 898.2 436.9 886.7 438.5C875.2 440.1 861.3 440.4 845.2 441C829.1 441.6 807.9 441.7 790 442C772.1 442.3 752.5 442.9 738.1 443C723.7 443.1 713.3 443.1 703.6 442.3C693.9 441.6 687.5 440.5 680.1 438.5C672.7 436.5 665.9 433.7 659.4 430.2C652.9 426.7 646.7 422.5 641.4 417.7C636.1 412.9 631.5 407.2 627.6 401.2C623.7 395.2 620.4 388.2 618 381.8C615.6 375.4 614.3 371.1 613.1 362.5C611.9 353.9 611.1 338.8 610.8 330Z" fill="none" stroke="url(#halo3)" stroke-width="20" stroke-linejoin="round"/>
<path d="M610.8 330C610.5 321.2 611 315.8 611.5 310C612 304.2 612.8 299.9 614 295C615.2 290.1 616 287.4 618.5 280.5C621 273.6 624.8 262.1 628.8 253.6C632.8 245 637.7 236.2 642.8 229.2C647.9 222.2 653.3 216.6 659.2 211.4C665.1 206.2 671.9 201.4 678.2 197.8C684.5 194.2 689.5 192 697.2 190C704.9 188 712.9 186.6 724.3 185.6C735.7 184.6 753.1 184.4 765.7 184.2C778.3 184 789 184.1 800 184.2C811 184.3 821.5 184.5 831.4 184.8C841.2 185.1 849.9 185.1 859.1 186.2C868.3 187.3 878.7 189.3 886.7 191.4C894.8 193.5 901 195.9 907.4 199C913.8 202.1 920.1 205.7 925.4 210.1C930.7 214.5 935.1 219.9 939.2 225.2C943.3 230.5 947 235.8 950.2 241.8C953.4 247.8 956.2 254.8 958.5 261.2C960.8 267.6 962.4 273.8 964 280.5C965.6 287.2 967.3 294.6 968.2 301.2C969.1 307.8 969.4 313.9 969.6 320C969.8 326.1 970.1 330.1 969.6 337.6C969.1 345.1 968.4 356.9 966.8 365.2C965.2 373.5 962.9 380.4 959.9 387.3C956.9 394.2 952.9 401.2 948.8 406.7C944.6 412.2 940.8 416.4 935 420.5C929.2 424.6 922.3 428.5 914.3 431.5C906.2 434.5 898.2 436.9 886.7 438.5C875.2 440.1 861.3 440.4 845.2 441C829.1 441.6 807.9 441.7 790 442C772.1 442.3 752.5 442.9 738.1 443C723.7 443.1 713.3 443.1 703.6 442.3C693.9 441.6 687.5 440.5 680.1 438.5C672.7 436.5 665.9 433.7 659.4 430.2C652.9 426.7 646.7 422.5 641.4 417.7C636.1 412.9 631.5 407.2 627.6 401.2C623.7 395.2 620.4 388.2 618 381.8C615.6 375.4 614.3 371.1 613.1 362.5C611.9 353.9 611.1 338.8 610.8 330Z" fill="none" stroke="#000" stroke-opacity="0.55" stroke-width="11" stroke-linejoin="round"/>
<path d="M610.8 330C610.5 321.2 611 315.8 611.5 310C612 304.2 612.8 299.9 614 295C615.2 290.1 616 287.4 618.5 280.5C621 273.6 624.8 262.1 628.8 253.6C632.8 245 637.7 236.2 642.8 229.2C647.9 222.2 653.3 216.6 659.2 211.4C665.1 206.2 671.9 201.4 678.2 197.8C684.5 194.2 689.5 192 697.2 190C704.9 188 712.9 186.6 724.3 185.6C735.7 184.6 753.1 184.4 765.7 184.2C778.3 184 789 184.1 800 184.2C811 184.3 821.5 184.5 831.4 184.8C841.2 185.1 849.9 185.1 859.1 186.2C868.3 187.3 878.7 189.3 886.7 191.4C894.8 193.5 901 195.9 907.4 199C913.8 202.1 920.1 205.7 925.4 210.1C930.7 214.5 935.1 219.9 939.2 225.2C943.3 230.5 947 235.8 950.2 241.8C953.4 247.8 956.2 254.8 958.5 261.2C960.8 267.6 962.4 273.8 964 280.5C965.6 287.2 967.3 294.6 968.2 301.2C969.1 307.8 969.4 313.9 969.6 320C969.8 326.1 970.1 330.1 969.6 337.6C969.1 345.1 968.4 356.9 966.8 365.2C965.2 373.5 962.9 380.4 959.9 387.3C956.9 394.2 952.9 401.2 948.8 406.7C944.6 412.2 940.8 416.4 935 420.5C929.2 424.6 922.3 428.5 914.3 431.5C906.2 434.5 898.2 436.9 886.7 438.5C875.2 440.1 861.3 440.4 845.2 441C829.1 441.6 807.9 441.7 790 442C772.1 442.3 752.5 442.9 738.1 443C723.7 443.1 713.3 443.1 703.6 442.3C693.9 441.6 687.5 440.5 680.1 438.5C672.7 436.5 665.9 433.7 659.4 430.2C652.9 426.7 646.7 422.5 641.4 417.7C636.1 412.9 631.5 407.2 627.6 401.2C623.7 395.2 620.4 388.2 618 381.8C615.6 375.4 614.3 371.1 613.1 362.5C611.9 353.9 611.1 338.8 610.8 330Z" fill="#a3a3a3"/>
<g clip-path="url(#bd3)"></g>
<path d="M690 222C693.1 220.1 693.3 221 696.7 219.7C700.1 218.4 704.8 216.5 710.5 214.2C716.2 211.9 724.3 207.8 731.2 205.9C738.1 204.1 743.8 203.7 751.9 203.1C760 202.5 771.6 202.4 779.6 202.5C787.6 202.6 793.7 203.2 800 203.5C806.3 203.8 810.1 203.9 817.6 204.5C825.1 205.1 837.1 205.9 845.2 207.3C853.3 208.7 859.1 210.5 866 212.8C872.9 215.1 881 217.9 886.7 221.1C892.5 224.3 896.4 228.5 900.5 232.2C904.6 235.9 908.5 239.9 911.5 243.2C914.5 246.5 916.2 248.1 918.5 252C920.8 255.9 923.3 261.9 925.4 266.7C927.5 271.4 929.3 275.9 930.9 280.5C932.5 285.1 933.6 289.7 935 294.3C936.4 298.9 938.1 303.8 939.2 308.1C940.3 312.4 941 315.5 941.5 320C942 324.5 942.5 329.7 941.9 334.9C941.3 340.1 939.2 346.3 937.8 351.4C936.4 356.4 935 360.6 933.6 365.2C932.2 369.8 931.1 375 929.5 379.1C927.9 383.2 928.1 385.9 924 390C919.9 394.1 911.2 400.9 905 403.5C898.8 406.1 892.1 404.5 886.7 405.3C881.4 406.1 877.5 407.9 872.9 408.1C868.3 408.3 863.7 407.5 859.1 406.7C854.5 405.9 848.4 404.5 845.2 403.2C842 401.9 845 399.4 840 399C835 398.6 827.5 400.7 815 401C802.5 401.3 777.8 401.2 765 401C752.2 400.8 745.3 399.3 738.5 400C731.7 400.7 729 403.9 724.3 405.3C719.6 406.7 715.1 407.9 710.5 408.1C705.9 408.3 701.3 407.6 696.7 406.7C692.1 405.8 687.2 404.2 682.9 402.5C678.6 400.8 675.6 399.2 671 396.5C666.4 393.8 658.5 390.1 655 386C651.5 381.9 651.3 377.3 649.7 372.2C648.1 367.1 647 361.4 645.6 355.6C644.2 349.8 642.5 342.9 641.4 337.6C640.3 332.3 639.2 328.4 639 323.8C638.8 319.2 639.4 313.5 640 310C640.6 306.5 641.4 306.6 642.8 302.6C644.2 298.6 646.2 291.3 648.3 286C650.4 280.7 652.9 275.9 655.2 270.8C657.5 265.7 659.9 260.4 662.2 255.6C664.5 250.8 666.5 245.9 669.1 241.8C671.7 237.7 674.5 234.3 678 231C681.5 227.7 686.9 223.9 690 222Z" fill="#888888"/>
<g clip-path="url(#in3)">
<path d="M789.5 198C795.1 203.9 793.2 218.3 793.4 225.2C793.6 232 792.9 235.4 790.6 239.1C788.3 242.8 786.1 245 779.6 247.3C773.1 249.6 761.1 250.6 751.9 252.9C742.7 255.2 732.3 257.8 724.3 261.2C716.2 264.6 709.6 269.2 703.6 273.6C697.6 278 692.8 282.6 688.4 287.4C684 292.2 680.1 297.2 677.3 302.6C674.5 308 674.3 315.6 671.8 320C669.3 324.4 665 325.6 662.2 329C659.4 332.4 657.4 337.1 655.2 340.4C653 343.7 653.2 347.1 649 349C644.8 350.9 633.2 378.5 630 352C626.8 325.5 608.3 217 630 190C651.7 163 733.4 188.7 760 190C786.6 191.3 783.9 192.1 789.5 198Z" fill="#9e9e9e"/>
<ellipse cx="800" cy="300" rx="70" ry="45" fill="#9a9a9a" opacity="0.6" filter="url(#soft)"/><ellipse cx="790" cy="402" rx="150" ry="22" fill="#9c9c9c" opacity="0.9" filter="url(#soft2)"/>
<ellipse cx="720.2" cy="350" rx="32" ry="29.5" fill="#a7a7a7" transform="rotate(-25 720.2 350)"/>
<ellipse cx="870" cy="354.5" rx="31" ry="33.5" fill="#a7a7a7" transform="rotate(-20 870 354.5)"/>
<circle cx="787.8" cy="330.5" r="10.4" fill="#a4a4a4"/>
<circle cx="817.8" cy="335.6" r="11.8" fill="#a4a4a4"/>
</g>
<path d="M690 222C693.1 220.1 693.3 221 696.7 219.7C700.1 218.4 704.8 216.5 710.5 214.2C716.2 211.9 724.3 207.8 731.2 205.9C738.1 204.1 743.8 203.7 751.9 203.1C760 202.5 771.6 202.4 779.6 202.5C787.6 202.6 793.7 203.2 800 203.5C806.3 203.8 810.1 203.9 817.6 204.5C825.1 205.1 837.1 205.9 845.2 207.3C853.3 208.7 859.1 210.5 866 212.8C872.9 215.1 881 217.9 886.7 221.1C892.5 224.3 896.4 228.5 900.5 232.2C904.6 235.9 908.5 239.9 911.5 243.2C914.5 246.5 916.2 248.1 918.5 252C920.8 255.9 923.3 261.9 925.4 266.7C927.5 271.4 929.3 275.9 930.9 280.5C932.5 285.1 933.6 289.7 935 294.3C936.4 298.9 938.1 303.8 939.2 308.1C940.3 312.4 941 315.5 941.5 320C942 324.5 942.5 329.7 941.9 334.9C941.3 340.1 939.2 346.3 937.8 351.4C936.4 356.4 935 360.6 933.6 365.2C932.2 369.8 931.1 375 929.5 379.1C927.9 383.2 928.1 385.9 924 390C919.9 394.1 911.2 400.9 905 403.5C898.8 406.1 892.1 404.5 886.7 405.3C881.4 406.1 877.5 407.9 872.9 408.1C868.3 408.3 863.7 407.5 859.1 406.7C854.5 405.9 848.4 404.5 845.2 403.2C842 401.9 845 399.4 840 399C835 398.6 827.5 400.7 815 401C802.5 401.3 777.8 401.2 765 401C752.2 400.8 745.3 399.3 738.5 400C731.7 400.7 729 403.9 724.3 405.3C719.6 406.7 715.1 407.9 710.5 408.1C705.9 408.3 701.3 407.6 696.7 406.7C692.1 405.8 687.2 404.2 682.9 402.5C678.6 400.8 675.6 399.2 671 396.5C666.4 393.8 658.5 390.1 655 386C651.5 381.9 651.3 377.3 649.7 372.2C648.1 367.1 647 361.4 645.6 355.6C644.2 349.8 642.5 342.9 641.4 337.6C640.3 332.3 639.2 328.4 639 323.8C638.8 319.2 639.4 313.5 640 310C640.6 306.5 641.4 306.6 642.8 302.6C644.2 298.6 646.2 291.3 648.3 286C650.4 280.7 652.9 275.9 655.2 270.8C657.5 265.7 659.9 260.4 662.2 255.6C664.5 250.8 666.5 245.9 669.1 241.8C671.7 237.7 674.5 234.3 678 231C681.5 227.7 686.9 223.9 690 222Z" fill="none" stroke="#000" stroke-width="2.8" stroke-linejoin="round"/>
<path d="M696.7 219.7C699 218.8 704.8 216.5 710.5 214.2C716.2 211.9 724.3 207.8 731.2 205.9C738.1 204.1 743.8 203.7 751.9 203.1C760 202.5 771.6 202.4 779.6 202.5C787.6 202.6 793.7 203.2 800 203.5C806.3 203.8 810.1 203.9 817.6 204.5C825.1 205.1 837.1 205.9 845.2 207.3C853.3 208.7 859.1 210.5 866 212.8C872.9 215.1 881 217.9 886.7 221.1C892.5 224.3 896.4 228.5 900.5 232.2C904.6 235.9 909.7 241.4 911.5 243.2" fill="none" stroke="#000" stroke-width="4.2" stroke-linecap="round"/>
<path d="M697.5 189.5C697.5 198 694.5 205 688.5 213" fill="none" stroke="#000" stroke-width="4.6" stroke-linecap="round"/>
<path d="M664.2 236.6L689.2 218.6" stroke="#000" stroke-width="11" stroke-linecap="round" fill="none"/>
<path d="M894.3 220L917.3 237.5" stroke="#000" stroke-width="11" stroke-linecap="round" fill="none"/>
<path d="M639.4 297.1L634.4 323.1" stroke="#000" stroke-width="11" stroke-linecap="round" fill="none"/>
<path d="M943.1 297.6L949.1 324.1" stroke="#000" stroke-width="11" stroke-linecap="round" fill="none"/>
<path d="M650.4 387.7L675.9 404.2" stroke="#000" stroke-width="11" stroke-linecap="round" fill="none"/>
<path d="M903.6 403.7L928.6 388.7" stroke="#000" stroke-width="11" stroke-linecap="round" fill="none"/>
<path d="M661 234.9L687 216.1" stroke="#fff" stroke-width="8.8" stroke-linecap="round" fill="none"/>
<path d="M896.5 217.6L920.5 235.9" stroke="#fff" stroke-width="8.8" stroke-linecap="round" fill="none"/>
<path d="M636.1 296.4L630.9 323.6" stroke="#fff" stroke-width="8.8" stroke-linecap="round" fill="none"/>
<path d="M946.4 296.9L952.6 324.6" stroke="#fff" stroke-width="8.8" stroke-linecap="round" fill="none"/>
<path d="M647 389.2L673.5 406.3" stroke="#fff" stroke-width="8.8" stroke-linecap="round" fill="none"/>
<path d="M906 405.8L932 390.2" stroke="#fff" stroke-width="8.8" stroke-linecap="round" fill="none"/>
<path d="M819.8 366C820.1 367.3 820.9 371.2 821.8 374C822.7 376.8 823.7 380.3 825 383C826.3 385.7 827.2 387.8 829.5 390C831.8 392.2 836.9 394.4 839 396.3C841.1 398.2 842.2 400 842 401.5C841.8 403 839.8 404.4 838 405.5C836.2 406.6 834.4 407.1 831.4 407.8C828.4 408.6 823.5 409.1 820 410C816.5 410.9 813.5 411.8 810.7 413.3C807.9 414.8 805.3 417 803 419C800.7 421 799.1 423.7 797 425.5C794.9 427.3 792.7 429.4 790.5 429.6C788.3 429.8 786.2 428.1 784 426.5C781.8 424.9 779.4 422 777 420C774.6 418 772.9 416.3 769.9 414.5C766.9 412.7 762.4 410.6 758.8 409.4C755.1 408.2 751.2 408.2 748 407.3C744.8 406.4 741.2 405.2 739.5 404C737.8 402.8 737.4 401.4 737.6 399.8C737.9 398.2 739.2 396.2 741 394.6C742.8 393 746.3 391.9 748.5 390C750.7 388.1 752.4 385.8 754 383C755.6 380.2 756.9 376.3 758 373C759.1 369.7 760.3 364.7 760.8 363" fill="none" stroke="#000" stroke-width="5.6" stroke-linejoin="round" stroke-linecap="round"/>
<path d="M772.7 344.5C775 343.6 778 342.8 781 342.3C784 341.8 786.7 341.1 790.5 341.6C794.3 342.1 800 343.6 803.8 345.2C807.6 346.8 811.2 349.3 813.5 351.4C815.8 353.5 816.6 355.6 817.6 358C818.6 360.4 819.1 363.3 819.8 366C820.5 368.7 820.9 371.2 821.8 374C822.7 376.8 823.7 380.3 825 383C826.3 385.7 827.2 387.8 829.5 390C831.8 392.2 836.9 394.4 839 396.3C841.1 398.2 842.2 400 842 401.5C841.8 403 839.8 404.4 838 405.5C836.2 406.6 834.4 407.1 831.4 407.8C828.4 408.6 823.5 409.1 820 410C816.5 410.9 813.5 411.8 810.7 413.3C807.9 414.8 805.3 417 803 419C800.7 421 799.1 423.7 797 425.5C794.9 427.3 792.7 429.4 790.5 429.6C788.3 429.8 786.2 428.1 784 426.5C781.8 424.9 779.4 422 777 420C774.6 418 772.9 416.3 769.9 414.5C766.9 412.7 762.4 410.6 758.8 409.4C755.1 408.2 751.2 408.2 748 407.3C744.8 406.4 741.2 405.2 739.5 404C737.8 402.8 737.4 401.4 737.6 399.8C737.9 398.2 739.2 396.2 741 394.6C742.8 393 746.3 391.9 748.5 390C750.7 388.1 752.4 385.8 754 383C755.6 380.2 756.9 376.3 758 373C759.1 369.7 759.8 366.2 760.8 363C761.8 359.8 762.9 356 764 353.5C765.1 351 766 349.5 767.5 348C769 346.5 770.5 345.4 772.7 344.5Z" fill="#fff"/>
<circle cx="791.6" cy="393.2" r="10.2" fill="#4a4a4a"/>
<circle cx="791.6" cy="394.6" r="9.6" fill="#a6a6a6"/>
<circle cx="772.5" cy="396.5" r="1.6" fill="#aaa"/>
</g>
<g transform="translate(-2.4 476.4) translate(790 442) scale(0.992 0.987) translate(-790 -442)" filter="url(#pb4)">
<clipPath id="in4"><path d="M690 222C693.1 220.1 693.3 221 696.7 219.7C700.1 218.4 704.8 216.5 710.5 214.2C716.2 211.9 724.3 207.8 731.2 205.9C738.1 204.1 743.8 203.7 751.9 203.1C760 202.5 771.6 202.4 779.6 202.5C787.6 202.6 793.7 203.2 800 203.5C806.3 203.8 810.1 203.9 817.6 204.5C825.1 205.1 837.1 205.9 845.2 207.3C853.3 208.7 859.1 210.5 866 212.8C872.9 215.1 881 217.9 886.7 221.1C892.5 224.3 896.4 228.5 900.5 232.2C904.6 235.9 908.5 239.9 911.5 243.2C914.5 246.5 916.2 248.1 918.5 252C920.8 255.9 923.3 261.9 925.4 266.7C927.5 271.4 929.3 275.9 930.9 280.5C932.5 285.1 933.6 289.7 935 294.3C936.4 298.9 938.1 303.8 939.2 308.1C940.3 312.4 941 315.5 941.5 320C942 324.5 942.5 329.7 941.9 334.9C941.3 340.1 939.2 346.3 937.8 351.4C936.4 356.4 935 360.6 933.6 365.2C932.2 369.8 931.1 375 929.5 379.1C927.9 383.2 928.1 385.9 924 390C919.9 394.1 911.2 400.9 905 403.5C898.8 406.1 892.1 404.5 886.7 405.3C881.4 406.1 877.5 407.9 872.9 408.1C868.3 408.3 863.7 407.5 859.1 406.7C854.5 405.9 848.4 404.5 845.2 403.2C842 401.9 845 399.4 840 399C835 398.6 827.5 400.7 815 401C802.5 401.3 777.8 401.2 765 401C752.2 400.8 745.3 399.3 738.5 400C731.7 400.7 729 403.9 724.3 405.3C719.6 406.7 715.1 407.9 710.5 408.1C705.9 408.3 701.3 407.6 696.7 406.7C692.1 405.8 687.2 404.2 682.9 402.5C678.6 400.8 675.6 399.2 671 396.5C666.4 393.8 658.5 390.1 655 386C651.5 381.9 651.3 377.3 649.7 372.2C648.1 367.1 647 361.4 645.6 355.6C644.2 349.8 642.5 342.9 641.4 337.6C640.3 332.3 639.2 328.4 639 323.8C638.8 319.2 639.4 313.5 640 310C640.6 306.5 641.4 306.6 642.8 302.6C644.2 298.6 646.2 291.3 648.3 286C650.4 280.7 652.9 275.9 655.2 270.8C657.5 265.7 659.9 260.4 662.2 255.6C664.5 250.8 666.5 245.9 669.1 241.8C671.7 237.7 674.5 234.3 678 231C681.5 227.7 686.9 223.9 690 222Z"/></clipPath>
<clipPath id="bd4"><path d="M610.8 330C610.5 321.2 611 315.8 611.5 310C612 304.2 612.8 299.9 614 295C615.2 290.1 616 287.4 618.5 280.5C621 273.6 624.8 262.1 628.8 253.6C632.8 245 637.7 236.2 642.8 229.2C647.9 222.2 653.3 216.6 659.2 211.4C665.1 206.2 671.9 201.4 678.2 197.8C684.5 194.2 689.5 192 697.2 190C704.9 188 712.9 186.6 724.3 185.6C735.7 184.6 753.1 184.4 765.7 184.2C778.3 184 789 184.1 800 184.2C811 184.3 821.5 184.5 831.4 184.8C841.2 185.1 849.9 185.1 859.1 186.2C868.3 187.3 878.7 189.3 886.7 191.4C894.8 193.5 901 195.9 907.4 199C913.8 202.1 920.1 205.7 925.4 210.1C930.7 214.5 935.1 219.9 939.2 225.2C943.3 230.5 947 235.8 950.2 241.8C953.4 247.8 956.2 254.8 958.5 261.2C960.8 267.6 962.4 273.8 964 280.5C965.6 287.2 967.3 294.6 968.2 301.2C969.1 307.8 969.4 313.9 969.6 320C969.8 326.1 970.1 330.1 969.6 337.6C969.1 345.1 968.4 356.9 966.8 365.2C965.2 373.5 962.9 380.4 959.9 387.3C956.9 394.2 952.9 401.2 948.8 406.7C944.6 412.2 940.8 416.4 935 420.5C929.2 424.6 922.3 428.5 914.3 431.5C906.2 434.5 898.2 436.9 886.7 438.5C875.2 440.1 861.3 440.4 845.2 441C829.1 441.6 807.9 441.7 790 442C772.1 442.3 752.5 442.9 738.1 443C723.7 443.1 713.3 443.1 703.6 442.3C693.9 441.6 687.5 440.5 680.1 438.5C672.7 436.5 665.9 433.7 659.4 430.2C652.9 426.7 646.7 422.5 641.4 417.7C636.1 412.9 631.5 407.2 627.6 401.2C623.7 395.2 620.4 388.2 618 381.8C615.6 375.4 614.3 371.1 613.1 362.5C611.9 353.9 611.1 338.8 610.8 330Z"/></clipPath>
<path d="M610.8 330C610.5 321.2 611 315.8 611.5 310C612 304.2 612.8 299.9 614 295C615.2 290.1 616 287.4 618.5 280.5C621 273.6 624.8 262.1 628.8 253.6C632.8 245 637.7 236.2 642.8 229.2C647.9 222.2 653.3 216.6 659.2 211.4C665.1 206.2 671.9 201.4 678.2 197.8C684.5 194.2 689.5 192 697.2 190C704.9 188 712.9 186.6 724.3 185.6C735.7 184.6 753.1 184.4 765.7 184.2C778.3 184 789 184.1 800 184.2C811 184.3 821.5 184.5 831.4 184.8C841.2 185.1 849.9 185.1 859.1 186.2C868.3 187.3 878.7 189.3 886.7 191.4C894.8 193.5 901 195.9 907.4 199C913.8 202.1 920.1 205.7 925.4 210.1C930.7 214.5 935.1 219.9 939.2 225.2C943.3 230.5 947 235.8 950.2 241.8C953.4 247.8 956.2 254.8 958.5 261.2C960.8 267.6 962.4 273.8 964 280.5C965.6 287.2 967.3 294.6 968.2 301.2C969.1 307.8 969.4 313.9 969.6 320C969.8 326.1 970.1 330.1 969.6 337.6C969.1 345.1 968.4 356.9 966.8 365.2C965.2 373.5 962.9 380.4 959.9 387.3C956.9 394.2 952.9 401.2 948.8 406.7C944.6 412.2 940.8 416.4 935 420.5C929.2 424.6 922.3 428.5 914.3 431.5C906.2 434.5 898.2 436.9 886.7 438.5C875.2 440.1 861.3 440.4 845.2 441C829.1 441.6 807.9 441.7 790 442C772.1 442.3 752.5 442.9 738.1 443C723.7 443.1 713.3 443.1 703.6 442.3C693.9 441.6 687.5 440.5 680.1 438.5C672.7 436.5 665.9 433.7 659.4 430.2C652.9 426.7 646.7 422.5 641.4 417.7C636.1 412.9 631.5 407.2 627.6 401.2C623.7 395.2 620.4 388.2 618 381.8C615.6 375.4 614.3 371.1 613.1 362.5C611.9 353.9 611.1 338.8 610.8 330Z" fill="none" stroke="url(#halo4)" stroke-width="20" stroke-linejoin="round"/>
<path d="M610.8 330C610.5 321.2 611 315.8 611.5 310C612 304.2 612.8 299.9 614 295C615.2 290.1 616 287.4 618.5 280.5C621 273.6 624.8 262.1 628.8 253.6C632.8 245 637.7 236.2 642.8 229.2C647.9 222.2 653.3 216.6 659.2 211.4C665.1 206.2 671.9 201.4 678.2 197.8C684.5 194.2 689.5 192 697.2 190C704.9 188 712.9 186.6 724.3 185.6C735.7 184.6 753.1 184.4 765.7 184.2C778.3 184 789 184.1 800 184.2C811 184.3 821.5 184.5 831.4 184.8C841.2 185.1 849.9 185.1 859.1 186.2C868.3 187.3 878.7 189.3 886.7 191.4C894.8 193.5 901 195.9 907.4 199C913.8 202.1 920.1 205.7 925.4 210.1C930.7 214.5 935.1 219.9 939.2 225.2C943.3 230.5 947 235.8 950.2 241.8C953.4 247.8 956.2 254.8 958.5 261.2C960.8 267.6 962.4 273.8 964 280.5C965.6 287.2 967.3 294.6 968.2 301.2C969.1 307.8 969.4 313.9 969.6 320C969.8 326.1 970.1 330.1 969.6 337.6C969.1 345.1 968.4 356.9 966.8 365.2C965.2 373.5 962.9 380.4 959.9 387.3C956.9 394.2 952.9 401.2 948.8 406.7C944.6 412.2 940.8 416.4 935 420.5C929.2 424.6 922.3 428.5 914.3 431.5C906.2 434.5 898.2 436.9 886.7 438.5C875.2 440.1 861.3 440.4 845.2 441C829.1 441.6 807.9 441.7 790 442C772.1 442.3 752.5 442.9 738.1 443C723.7 443.1 713.3 443.1 703.6 442.3C693.9 441.6 687.5 440.5 680.1 438.5C672.7 436.5 665.9 433.7 659.4 430.2C652.9 426.7 646.7 422.5 641.4 417.7C636.1 412.9 631.5 407.2 627.6 401.2C623.7 395.2 620.4 388.2 618 381.8C615.6 375.4 614.3 371.1 613.1 362.5C611.9 353.9 611.1 338.8 610.8 330Z" fill="none" stroke="#000" stroke-opacity="0.55" stroke-width="11" stroke-linejoin="round"/>
<path d="M610.8 330C610.5 321.2 611 315.8 611.5 310C612 304.2 612.8 299.9 614 295C615.2 290.1 616 287.4 618.5 280.5C621 273.6 624.8 262.1 628.8 253.6C632.8 245 637.7 236.2 642.8 229.2C647.9 222.2 653.3 216.6 659.2 211.4C665.1 206.2 671.9 201.4 678.2 197.8C684.5 194.2 689.5 192 697.2 190C704.9 188 712.9 186.6 724.3 185.6C735.7 184.6 753.1 184.4 765.7 184.2C778.3 184 789 184.1 800 184.2C811 184.3 821.5 184.5 831.4 184.8C841.2 185.1 849.9 185.1 859.1 186.2C868.3 187.3 878.7 189.3 886.7 191.4C894.8 193.5 901 195.9 907.4 199C913.8 202.1 920.1 205.7 925.4 210.1C930.7 214.5 935.1 219.9 939.2 225.2C943.3 230.5 947 235.8 950.2 241.8C953.4 247.8 956.2 254.8 958.5 261.2C960.8 267.6 962.4 273.8 964 280.5C965.6 287.2 967.3 294.6 968.2 301.2C969.1 307.8 969.4 313.9 969.6 320C969.8 326.1 970.1 330.1 969.6 337.6C969.1 345.1 968.4 356.9 966.8 365.2C965.2 373.5 962.9 380.4 959.9 387.3C956.9 394.2 952.9 401.2 948.8 406.7C944.6 412.2 940.8 416.4 935 420.5C929.2 424.6 922.3 428.5 914.3 431.5C906.2 434.5 898.2 436.9 886.7 438.5C875.2 440.1 861.3 440.4 845.2 441C829.1 441.6 807.9 441.7 790 442C772.1 442.3 752.5 442.9 738.1 443C723.7 443.1 713.3 443.1 703.6 442.3C693.9 441.6 687.5 440.5 680.1 438.5C672.7 436.5 665.9 433.7 659.4 430.2C652.9 426.7 646.7 422.5 641.4 417.7C636.1 412.9 631.5 407.2 627.6 401.2C623.7 395.2 620.4 388.2 618 381.8C615.6 375.4 614.3 371.1 613.1 362.5C611.9 353.9 611.1 338.8 610.8 330Z" fill="#888888"/>
<g clip-path="url(#bd4)"></g>
<path d="M690 222C693.1 220.1 693.3 221 696.7 219.7C700.1 218.4 704.8 216.5 710.5 214.2C716.2 211.9 724.3 207.8 731.2 205.9C738.1 204.1 743.8 203.7 751.9 203.1C760 202.5 771.6 202.4 779.6 202.5C787.6 202.6 793.7 203.2 800 203.5C806.3 203.8 810.1 203.9 817.6 204.5C825.1 205.1 837.1 205.9 845.2 207.3C853.3 208.7 859.1 210.5 866 212.8C872.9 215.1 881 217.9 886.7 221.1C892.5 224.3 896.4 228.5 900.5 232.2C904.6 235.9 908.5 239.9 911.5 243.2C914.5 246.5 916.2 248.1 918.5 252C920.8 255.9 923.3 261.9 925.4 266.7C927.5 271.4 929.3 275.9 930.9 280.5C932.5 285.1 933.6 289.7 935 294.3C936.4 298.9 938.1 303.8 939.2 308.1C940.3 312.4 941 315.5 941.5 320C942 324.5 942.5 329.7 941.9 334.9C941.3 340.1 939.2 346.3 937.8 351.4C936.4 356.4 935 360.6 933.6 365.2C932.2 369.8 931.1 375 929.5 379.1C927.9 383.2 928.1 385.9 924 390C919.9 394.1 911.2 400.9 905 403.5C898.8 406.1 892.1 404.5 886.7 405.3C881.4 406.1 877.5 407.9 872.9 408.1C868.3 408.3 863.7 407.5 859.1 406.7C854.5 405.9 848.4 404.5 845.2 403.2C842 401.9 845 399.4 840 399C835 398.6 827.5 400.7 815 401C802.5 401.3 777.8 401.2 765 401C752.2 400.8 745.3 399.3 738.5 400C731.7 400.7 729 403.9 724.3 405.3C719.6 406.7 715.1 407.9 710.5 408.1C705.9 408.3 701.3 407.6 696.7 406.7C692.1 405.8 687.2 404.2 682.9 402.5C678.6 400.8 675.6 399.2 671 396.5C666.4 393.8 658.5 390.1 655 386C651.5 381.9 651.3 377.3 649.7 372.2C648.1 367.1 647 361.4 645.6 355.6C644.2 349.8 642.5 342.9 641.4 337.6C640.3 332.3 639.2 328.4 639 323.8C638.8 319.2 639.4 313.5 640 310C640.6 306.5 641.4 306.6 642.8 302.6C644.2 298.6 646.2 291.3 648.3 286C650.4 280.7 652.9 275.9 655.2 270.8C657.5 265.7 659.9 260.4 662.2 255.6C664.5 250.8 666.5 245.9 669.1 241.8C671.7 237.7 674.5 234.3 678 231C681.5 227.7 686.9 223.9 690 222Z" fill="#7a7a7a"/>
<g clip-path="url(#in4)">
<path d="M789.5 198C795.1 203.9 793.2 218.3 793.4 225.2C793.6 232 792.9 235.4 790.6 239.1C788.3 242.8 786.1 245 779.6 247.3C773.1 249.6 761.1 250.6 751.9 252.9C742.7 255.2 732.3 257.8 724.3 261.2C716.2 264.6 709.6 269.2 703.6 273.6C697.6 278 692.8 282.6 688.4 287.4C684 292.2 680.1 297.2 677.3 302.6C674.5 308 674.3 315.6 671.8 320C669.3 324.4 665 325.6 662.2 329C659.4 332.4 657.4 337.1 655.2 340.4C653 343.7 653.2 347.1 649 349C644.8 350.9 633.2 378.5 630 352C626.8 325.5 608.3 217 630 190C651.7 163 733.4 188.7 760 190C786.6 191.3 783.9 192.1 789.5 198Z" fill="#8c8c8c"/>
<ellipse cx="888" cy="262" rx="72" ry="62" fill="#9a9a9a" opacity="0.8" filter="url(#soft)"/><ellipse cx="790" cy="402" rx="150" ry="22" fill="#8e8e8e" opacity="0.9" filter="url(#soft2)"/><ellipse cx="700" cy="330" rx="45" ry="40" fill="#686868" opacity="0.8" filter="url(#soft)"/><ellipse cx="757" cy="284" rx="76" ry="28" fill="#565656" opacity="0.85" filter="url(#soft)"/>
<ellipse cx="720.2" cy="350" rx="32" ry="29.5" fill="#969696" transform="rotate(-25 720.2 350)"/>
<ellipse cx="870" cy="354.5" rx="31" ry="33.5" fill="#a0a0a0" transform="rotate(-20 870 354.5)"/>
<circle cx="787.8" cy="330.5" r="10.4" fill="#8c8c8c"/>
<circle cx="817.8" cy="335.6" r="11.8" fill="#8c8c8c"/>
</g>
<path d="M690 222C693.1 220.1 693.3 221 696.7 219.7C700.1 218.4 704.8 216.5 710.5 214.2C716.2 211.9 724.3 207.8 731.2 205.9C738.1 204.1 743.8 203.7 751.9 203.1C760 202.5 771.6 202.4 779.6 202.5C787.6 202.6 793.7 203.2 800 203.5C806.3 203.8 810.1 203.9 817.6 204.5C825.1 205.1 837.1 205.9 845.2 207.3C853.3 208.7 859.1 210.5 866 212.8C872.9 215.1 881 217.9 886.7 221.1C892.5 224.3 896.4 228.5 900.5 232.2C904.6 235.9 908.5 239.9 911.5 243.2C914.5 246.5 916.2 248.1 918.5 252C920.8 255.9 923.3 261.9 925.4 266.7C927.5 271.4 929.3 275.9 930.9 280.5C932.5 285.1 933.6 289.7 935 294.3C936.4 298.9 938.1 303.8 939.2 308.1C940.3 312.4 941 315.5 941.5 320C942 324.5 942.5 329.7 941.9 334.9C941.3 340.1 939.2 346.3 937.8 351.4C936.4 356.4 935 360.6 933.6 365.2C932.2 369.8 931.1 375 929.5 379.1C927.9 383.2 928.1 385.9 924 390C919.9 394.1 911.2 400.9 905 403.5C898.8 406.1 892.1 404.5 886.7 405.3C881.4 406.1 877.5 407.9 872.9 408.1C868.3 408.3 863.7 407.5 859.1 406.7C854.5 405.9 848.4 404.5 845.2 403.2C842 401.9 845 399.4 840 399C835 398.6 827.5 400.7 815 401C802.5 401.3 777.8 401.2 765 401C752.2 400.8 745.3 399.3 738.5 400C731.7 400.7 729 403.9 724.3 405.3C719.6 406.7 715.1 407.9 710.5 408.1C705.9 408.3 701.3 407.6 696.7 406.7C692.1 405.8 687.2 404.2 682.9 402.5C678.6 400.8 675.6 399.2 671 396.5C666.4 393.8 658.5 390.1 655 386C651.5 381.9 651.3 377.3 649.7 372.2C648.1 367.1 647 361.4 645.6 355.6C644.2 349.8 642.5 342.9 641.4 337.6C640.3 332.3 639.2 328.4 639 323.8C638.8 319.2 639.4 313.5 640 310C640.6 306.5 641.4 306.6 642.8 302.6C644.2 298.6 646.2 291.3 648.3 286C650.4 280.7 652.9 275.9 655.2 270.8C657.5 265.7 659.9 260.4 662.2 255.6C664.5 250.8 666.5 245.9 669.1 241.8C671.7 237.7 674.5 234.3 678 231C681.5 227.7 686.9 223.9 690 222Z" fill="none" stroke="#000" stroke-width="3.2" stroke-linejoin="round"/>
<path d="M696.7 219.7C699 218.8 704.8 216.5 710.5 214.2C716.2 211.9 724.3 207.8 731.2 205.9C738.1 204.1 743.8 203.7 751.9 203.1C760 202.5 771.6 202.4 779.6 202.5C787.6 202.6 793.7 203.2 800 203.5C806.3 203.8 810.1 203.9 817.6 204.5C825.1 205.1 837.1 205.9 845.2 207.3C853.3 208.7 859.1 210.5 866 212.8C872.9 215.1 881 217.9 886.7 221.1C892.5 224.3 896.4 228.5 900.5 232.2C904.6 235.9 909.7 241.4 911.5 243.2" fill="none" stroke="#000" stroke-width="5.4" stroke-linecap="round"/>
<path d="M697.5 189.5C697.5 198 694.5 205 688.5 213" fill="none" stroke="#000" stroke-width="4.6" stroke-linecap="round"/>
<path d="M664.2 236.6L689.2 218.6" stroke="#000" stroke-width="11" stroke-linecap="round" fill="none"/>
<path d="M894.3 220L917.3 237.5" stroke="#000" stroke-width="11" stroke-linecap="round" fill="none"/>
<path d="M639.4 297.1L634.4 323.1" stroke="#000" stroke-width="11" stroke-linecap="round" fill="none"/>
<path d="M943.1 297.6L949.1 324.1" stroke="#000" stroke-width="11" stroke-linecap="round" fill="none"/>
<path d="M650.4 387.7L675.9 404.2" stroke="#000" stroke-width="11" stroke-linecap="round" fill="none"/>
<path d="M903.6 403.7L928.6 388.7" stroke="#000" stroke-width="11" stroke-linecap="round" fill="none"/>
<path d="M661 234.9L687 216.1" stroke="#fff" stroke-width="8.8" stroke-linecap="round" fill="none"/>
<path d="M896.5 217.6L920.5 235.9" stroke="#fff" stroke-width="8.8" stroke-linecap="round" fill="none"/>
<path d="M636.1 296.4L630.9 323.6" stroke="#fff" stroke-width="8.8" stroke-linecap="round" fill="none"/>
<path d="M946.4 296.9L952.6 324.6" stroke="#fff" stroke-width="8.8" stroke-linecap="round" fill="none"/>
<path d="M647 389.2L673.5 406.3" stroke="#fff" stroke-width="8.8" stroke-linecap="round" fill="none"/>
<path d="M906 405.8L932 390.2" stroke="#fff" stroke-width="8.8" stroke-linecap="round" fill="none"/>
<path d="M819.8 366C820.1 367.3 820.9 371.2 821.8 374C822.7 376.8 823.7 380.3 825 383C826.3 385.7 827.2 387.8 829.5 390C831.8 392.2 836.9 394.4 839 396.3C841.1 398.2 842.2 400 842 401.5C841.8 403 839.8 404.4 838 405.5C836.2 406.6 834.4 407.1 831.4 407.8C828.4 408.6 823.5 409.1 820 410C816.5 410.9 813.5 411.8 810.7 413.3C807.9 414.8 805.3 417 803 419C800.7 421 799.1 423.7 797 425.5C794.9 427.3 792.7 429.4 790.5 429.6C788.3 429.8 786.2 428.1 784 426.5C781.8 424.9 779.4 422 777 420C774.6 418 772.9 416.3 769.9 414.5C766.9 412.7 762.4 410.6 758.8 409.4C755.1 408.2 751.2 408.2 748 407.3C744.8 406.4 741.2 405.2 739.5 404C737.8 402.8 737.4 401.4 737.6 399.8C737.9 398.2 739.2 396.2 741 394.6C742.8 393 746.3 391.9 748.5 390C750.7 388.1 752.4 385.8 754 383C755.6 380.2 756.9 376.3 758 373C759.1 369.7 760.3 364.7 760.8 363" fill="none" stroke="#000" stroke-width="5.6" stroke-linejoin="round" stroke-linecap="round"/>
<path d="M772.7 344.5C775 343.6 778 342.8 781 342.3C784 341.8 786.7 341.1 790.5 341.6C794.3 342.1 800 343.6 803.8 345.2C807.6 346.8 811.2 349.3 813.5 351.4C815.8 353.5 816.6 355.6 817.6 358C818.6 360.4 819.1 363.3 819.8 366C820.5 368.7 820.9 371.2 821.8 374C822.7 376.8 823.7 380.3 825 383C826.3 385.7 827.2 387.8 829.5 390C831.8 392.2 836.9 394.4 839 396.3C841.1 398.2 842.2 400 842 401.5C841.8 403 839.8 404.4 838 405.5C836.2 406.6 834.4 407.1 831.4 407.8C828.4 408.6 823.5 409.1 820 410C816.5 410.9 813.5 411.8 810.7 413.3C807.9 414.8 805.3 417 803 419C800.7 421 799.1 423.7 797 425.5C794.9 427.3 792.7 429.4 790.5 429.6C788.3 429.8 786.2 428.1 784 426.5C781.8 424.9 779.4 422 777 420C774.6 418 772.9 416.3 769.9 414.5C766.9 412.7 762.4 410.6 758.8 409.4C755.1 408.2 751.2 408.2 748 407.3C744.8 406.4 741.2 405.2 739.5 404C737.8 402.8 737.4 401.4 737.6 399.8C737.9 398.2 739.2 396.2 741 394.6C742.8 393 746.3 391.9 748.5 390C750.7 388.1 752.4 385.8 754 383C755.6 380.2 756.9 376.3 758 373C759.1 369.7 759.8 366.2 760.8 363C761.8 359.8 762.9 356 764 353.5C765.1 351 766 349.5 767.5 348C769 346.5 770.5 345.4 772.7 344.5Z" fill="#fff"/>
<circle cx="791.6" cy="393.2" r="10.2" fill="#4a4a4a"/>
<circle cx="791.6" cy="394.6" r="9.6" fill="#9a9a9a"/>
<circle cx="772.5" cy="396.5" r="1.6" fill="#aaa"/>
</g>
<rect x="31.5" y="286.6" width="440" height="4.8" fill="#a81230"/>
<rect x="577" y="286.2" width="441.5" height="5.7" fill="#0f74c8"/>
<rect x="29.6" y="762.5" width="443" height="5.9" fill="#70b027"/>
<rect x="568" y="762.3" width="443.5" height="6.2" fill="#f5ab14"/>
<ellipse cx="200.3" cy="292.1" rx="21.3" ry="22.8" fill="none" stroke="#f47b20" stroke-width="5"/>
<ellipse cx="279.2" cy="291.4" rx="21.3" ry="22.8" fill="none" stroke="#f47b20" stroke-width="5"/>
<ellipse cx="360.7" cy="291" rx="21.3" ry="22.8" fill="none" stroke="#f47b20" stroke-width="5"/>
<g fill="#fff">
<text y="51.2" class="tb" font-size="33.5"><tspan x="19.6">A</tspan> <tspan x="70.8" textLength="663.5" lengthAdjust="spacingAndGlyphs">Image acquisitions of the (CB)CT imagers</tspan></text>
</g>
<g fill="#fff" stroke="#fff" stroke-width="0.6">
<text font-size="44" textLength="52" lengthAdjust="spacingAndGlyphs" x="237.2" y="164.8">CT</text>
<text y="164.2" font-size="44"><tspan x="632.2" textLength="228" lengthAdjust="spacingAndGlyphs">HyperSight</tspan> <tspan x="870" textLength="108" lengthAdjust="spacingAndGlyphs">CBCT</tspan></text>
<text y="629" font-size="44"><tspan x="108" textLength="184.5" lengthAdjust="spacingAndGlyphs">Standard</tspan> <tspan x="305.8" textLength="107.5" lengthAdjust="spacingAndGlyphs">CBCT</tspan></text>
<text y="629" font-size="44"><tspan x="632.6" textLength="207.5" lengthAdjust="spacingAndGlyphs">TrueBeam</tspan> <tspan x="853" textLength="108" lengthAdjust="spacingAndGlyphs">CBCT</tspan></text>
</g>
<g fill="#f47b20" font-size="45" stroke="#f47b20" stroke-width="0.5">
<text textLength="23" lengthAdjust="spacingAndGlyphs" x="158" y="272.8">1</text>
<text textLength="23" lengthAdjust="spacingAndGlyphs" x="231.6" y="267.3">2</text>
<text textLength="23" lengthAdjust="spacingAndGlyphs" x="321.6" y="268">3</text>
</g>
<text y="36.8" class="tb" font-size="33.5" fill="#000"><tspan x="1138">B</tspan> <tspan x="1185.4" textLength="378.5" lengthAdjust="spacingAndGlyphs">CT number line profiles</tspan></text>
<g clip-path="url(#cpB)" fill="none" stroke-width="2.6" stroke-linejoin="round" stroke-linecap="round">
<path d="M1244.4 480L1246.9 300.1L1248 275.9L1250.5 270.9L1253.8 265.9L1256.3 256L1258.8 250.2L1260.5 254.3L1262.1 260.9L1264.6 257.6L1267.1 260.9L1269.6 262.6L1272.1 259.3L1273.7 264.2L1275.4 277.5L1277 300.1L1280.4 480" stroke="#edb120"/>
<path d="M1288.6 480L1290.3 300.1L1291.1 260.9L1292 246L1294.5 232.7L1297.8 229.4L1301.1 232.7L1304.4 237.7L1306.9 238.5L1309.4 227.8L1311 224.5L1313.5 227.8L1316 222.8L1317.7 217.8L1319.3 222.8L1321 236.1L1323.5 239.4L1325.1 252.6L1327.6 277.5L1328.9 290.8L1329.1 299.9L1331.6 306.6L1336.6 305.8L1339.1 311.6L1343.2 308.2L1346.5 314.9L1349.8 323.2L1353.2 334.8L1355.6 338.9L1359 342.2L1361.5 348L1363.9 341.4L1366.4 344.7L1369.7 356.3L1373.9 363L1377.2 358L1380.5 358L1383.8 367.9L1388 373.7L1392.1 376.2L1395.4 374.6L1398.8 384.5L1402.1 387.8L1404.6 402.7L1405.9 410.2L1409.5 407.7L1413.7 405.2L1417 401.1L1419.5 392.8L1422 389.5L1424.5 390.3L1426.1 397.8L1428.6 372.1L1431.1 374.6L1433.6 363L1436.9 362.1L1440.2 339.7L1443.5 333.1L1446.8 314.9L1450.2 311.6L1452.6 290L1454.4 282.5L1456.9 269.2L1459.4 252.6L1462.7 242.7L1466 229.4L1469.3 216.2L1472.6 206.2L1476 196.3L1479.3 183L1480.9 166.4L1482.6 164.8L1485.1 171.4L1488.4 169.7L1491.7 164.8L1495 159L1497.5 163.1L1500 173.1L1502.4 167.3L1504.9 173.1L1507.4 181.3L1510.7 178L1514 193L1516.5 196.3L1519 181.3L1522.3 189.6L1524.8 199.6L1527.3 202.9L1530.6 209.5L1533.1 211.2L1536.4 204.6L1539.7 214.5L1542.2 221.1L1544.7 209.5L1547.2 202.9L1550.5 206.2L1553.8 191.3L1556.3 197.9L1559.6 202.9L1563 201.2L1565.4 198.8L1568.8 209.5L1571.2 219.5L1574.6 221.1L1577 212.8L1579.5 204.6L1582.8 212.8L1586.2 217.8L1588.7 224.5L1592 217.8L1595.3 214.5L1598.6 215.3L1601.9 224.5L1605.2 231.1L1607.7 232.7L1611 226.1L1613.5 216.2L1614.7 236.1L1615.5 269.2L1616.6 480" stroke="#edb120"/>
<path d="M1623.6 480L1630.3 236.1L1631.4 199.6L1633.9 186.3L1637.2 159.8L1639.7 157.3L1642.2 164.8L1644.7 169.7L1647.2 186.3L1649.7 197.9L1652.2 201.2L1654.7 197.9L1656.3 206.2L1657 236.1L1658.4 480" stroke="#edb120"/>
<path d="M1244.6 480L1247.2 219.5L1248.4 186.3L1249.4 168.1L1251.3 160.6L1255.5 164.8L1258 174.7L1259.6 185.5L1263.8 189.6L1265.4 199.6L1266.6 186.3L1267.9 169.7L1270.4 159.8L1273.7 164.8L1276.2 174.7L1277.5 194.6L1278.4 212.8L1279.2 226.1L1281.6 480" stroke="#77ac30"/>
<path d="M1289.2 480L1290 226.1L1290.6 186.3L1291.5 161.5L1293.6 149L1296.9 145.7L1300.3 149.8L1302.7 158.1L1304.1 161.5L1306.1 153.2L1307.7 149.8L1310.2 158.1L1312.4 165.6L1315.2 154.8L1316.8 152.3L1319.3 158.1L1321 164.8L1323.5 173.1L1326 178L1327.9 184.7L1330.1 199.6L1332.3 222.8L1334.2 236.1L1336.7 244.4L1339.2 246L1342.5 239.4L1345 230.3L1347.5 234.4L1349.2 242.7L1350.8 252.6L1353.3 257.6L1356.6 251L1361.6 254.3L1365.7 260.9L1369 251L1372.3 246L1375.6 251L1379 254.3L1382.3 236.1L1385.6 246L1389.7 252.6L1393.1 234.4L1396.4 246L1400.5 252.6L1405.5 246L1409.6 251L1414.6 247.7L1417.9 252.6L1421.2 252.6L1426.2 251L1429.5 254.3L1432.8 242.7L1436.2 234.4L1439.5 231.1L1443.6 228.6L1447.8 232.7L1451.1 227.8L1454.4 212.8L1456.9 199.6L1460.2 196.3L1463.5 198.8L1466.8 202.9L1470.2 206.2L1472.6 193L1475.1 176.4L1477.6 171.4L1480.1 168.9L1482.6 176.4L1485.1 177.2L1487.6 173.9L1490.1 178L1493.4 178.9L1495.9 189.6L1498.3 204.6L1501.6 191.3L1504.9 188.8L1508.2 179.7L1511.6 178.9L1514.9 188L1517.4 197.1L1520.7 188L1524 183.8L1529 183L1532.3 188L1535.6 196.3L1538.9 202.9L1541.4 206.2L1544.7 201.2L1548 204.6L1550.5 187.2L1553 191.3L1555.5 201.2L1559.6 194.6L1563 191.3L1567.1 190.5L1570.4 199.6L1572.9 219.5L1575.4 216.2L1578.7 186.3L1581.2 199.6L1582.8 207.9L1587 194.6L1590.3 217.8L1593.6 214.5L1596.9 193L1599.1 180.5L1601.9 193L1603.6 202.9L1606.1 186.3L1608.5 193L1611 204.6L1615.2 207.9L1618.5 197.9L1619.8 212.8L1620.5 236.1L1620.8 480" stroke="#77ac30"/>
<path d="M1630.5 480L1631.3 236.1L1632.6 212.8L1634.2 186.3L1636.7 164.8L1639.2 173.1L1641.7 166.4L1645.9 151.5L1648.3 143.2L1650 141.6L1653.8 138.2L1655.5 139.9L1657.1 161.5L1659.6 186.3L1661 206.2L1661.6 226.1L1663.2 480" stroke="#77ac30"/>
<path d="M1245 480L1247.5 269.2L1248 236.1L1250.5 212.8L1253 210.4L1255.5 219.5L1258 217.8L1260.5 219.5L1263 227.8L1264.6 229.4L1267.1 222.8L1269.6 222.8L1272.1 232.7L1274.6 227.8L1276.2 229.4L1278.7 219.5L1280 194.6L1280.7 178L1281.2 219.5L1281.7 269.2L1282.4 480" stroke="#0072bd"/>
<path d="M1288.4 480L1288.8 269.2L1289.5 219.5L1290.6 194.6L1292.8 183L1296.1 189.6L1299.4 199.6L1301.9 197.9L1304.4 188L1306.1 184.7L1308.5 194.6L1311 200.4L1313.5 197.9L1316 190.5L1318.5 197.9L1321 202.1L1323.5 196.3L1325.1 197.9L1327.6 212.8L1330.9 236.1L1333.4 252.6L1335.9 260.9L1337.6 285.8L1339.2 289.1L1340.9 279.2L1343.4 274.2L1345.9 269.2L1349.2 265.9L1351.6 272.5L1355.8 277.5L1359.9 265.9L1363.2 277.5L1366.5 287.5L1369.8 280.8L1373.2 287.5L1376.5 272.5L1379 265.9L1382.3 277.5L1385.6 289.1L1388.9 289.9L1392.2 279.2L1395.5 269.2L1398.9 267.6L1402.2 260.9L1405.5 265.9L1408 275.9L1411.3 280.8L1414.6 274.2L1417.9 267.6L1421.2 265.9L1424.6 256L1427.9 257.6L1431.2 264.2L1435.3 270.9L1439.5 265.9L1444.5 261.8L1447.8 262.6L1451.1 259.3L1454.4 265.9L1456.9 260.9L1459.4 264.2L1462.7 269.2L1466 256L1468.5 251L1471 260.9L1473.5 267.6L1476 260.9L1479.3 264.2L1482.6 260.9L1485.9 257.6L1489.2 256L1492.5 260.1L1495.9 256L1500 252.6L1503.3 256L1506.6 260.9L1509.9 262.6L1513.2 265.9L1516.5 272.5L1519.8 264.2L1522.3 254.3L1524.8 275L1528.1 260.9L1531.5 265.9L1533.9 270.9L1537.3 262.6L1540.6 271.7L1543.1 265.9L1546.4 262.6L1549.7 257.6L1553 254.3L1556.3 252.6L1561.3 248.5L1565.4 252.6L1568.8 265.9L1571.2 259.3L1574.6 254.3L1577.9 252.6L1581.2 260.9L1583.7 267.6L1587.8 265.9L1591.1 254.3L1594.5 259.3L1597.8 256L1601.1 264.2L1603.6 267.6L1606.9 260.9L1610.2 264.2L1613.5 267.6L1616 257.6L1617.7 239.4L1618.5 227.8L1619.2 252.6L1619.7 285.8L1620.2 480" stroke="#0072bd"/>
<path d="M1626.5 480L1627 285.8L1627.9 252.6L1630.6 227.8L1632.9 208.7L1635.1 236.1L1637.6 247.7L1640.9 239.4L1644.2 237.7L1647.5 229.4L1650 222.8L1653.8 219.5L1657.1 218.7L1659.6 219.5L1660.8 236.1L1661.6 269.2L1663 480" stroke="#0072bd"/>
<path d="M1244 480L1245.2 269.2L1245.7 236.1L1247.2 224.5L1249.7 214.5L1252.2 226.1L1254.7 234.4L1256.3 212.8L1258.8 195.4L1260.5 209.5L1263 214.5L1265.4 226.1L1267.1 209.5L1268.8 198.8L1270.4 212.8L1272.9 209.5L1274.6 219.5L1276.2 229.4L1278.7 226.1L1280.4 221.1L1281.2 236.1L1281.9 269.2L1282.6 480" stroke="#a2142f"/>
<path d="M1288.2 480L1288.5 269.2L1289.2 219.5L1290 186.3L1292 168.1L1294.5 164.8L1296.9 160.6L1299.4 171.4L1302.7 181.3L1306.1 174.7L1309.4 173.9L1312.7 167.3L1315.2 176.4L1317.7 179.7L1320.2 169.7L1321.8 163.9L1323.5 176.4L1325.1 178L1326.8 186.3L1327.6 199.6L1328.4 186.3L1330.1 202.9L1331.8 227.8L1334.2 246L1335.9 256L1337.6 236.1L1338.4 226.1L1340.1 236.1L1341.7 246L1344.2 242.7L1346.7 257.6L1349.2 252.6L1351.6 252.6L1354.1 262.6L1356.6 236.1L1359.9 234.4L1362.4 247.7L1364.9 244.4L1367.4 241L1369.8 237.7L1373.2 251L1374.8 231.1L1377.3 246L1380.6 249.3L1382.3 254.3L1384.8 249.3L1387.3 231.1L1388.9 247.7L1390.6 229.4L1393.1 256L1396.4 234.4L1399.7 265.9L1402.7 219.5L1405.5 236.1L1408 242.7L1410.5 249.3L1412.1 275.9L1415.4 239.4L1417.9 265.9L1420.4 234.4L1422.1 232.7L1424.6 252.6L1426.2 239.4L1429.2 229.4L1432 242.7L1435.3 252.6L1437.8 239.4L1440.3 254.3L1442 239.4L1443.6 252.6L1446.1 231.1L1449.4 236.1L1452.7 229.4L1455.2 252.6L1456.9 239.4L1458.5 232.7L1461 262.6L1463.5 270.9L1466.8 229.4L1469.3 249.3L1471.8 234.4L1474.3 241L1476.8 246L1480.1 272.5L1482.6 234.4L1486.7 226.9L1490.1 251L1492.5 239.4L1496.7 233.6L1499.2 249.3L1501.6 234.4L1504.1 252.6L1506.6 229.4L1509.1 251L1512.4 264.2L1514.9 244.4L1518.2 242.7L1521.5 226.1L1524.8 251L1527.3 241L1530.6 231.1L1533.9 257.6L1537.3 252.6L1539.7 242.7L1542.2 231.1L1545.5 241L1548.9 237.7L1551.3 252.6L1554.7 251L1558 246L1562.1 234.4L1564.6 241L1567.9 244.4L1571.2 237.7L1574.6 257.6L1577 254.3L1580.4 241L1583.7 234.4L1587 239.4L1590.3 252.6L1594.5 226.9L1596.9 251L1600.3 252.6L1604.4 239.4L1606.9 259.3L1609.4 246L1612.7 256L1616 247.7L1618.5 232.7L1619.5 252.6L1620 285.8L1620.6 480" stroke="#a2142f"/>
<path d="M1626.3 480L1626.8 285.8L1627.6 252.6L1630.1 227.8L1632.6 217.8L1635.1 226.1L1637.6 234.4L1640.9 226.1L1644.2 222.8L1647.5 219.5L1650 217.8L1653.8 212.8L1657.1 210.4L1659.6 216.2L1660.8 236.1L1661.8 269.2L1663.6 480" stroke="#a2142f"/>
</g>
<g stroke="#757575" stroke-width="1.9" fill="none">
<rect x="1195.4" y="63.4" width="517.3" height="398.8"/>
<path d="M1266.8 462.2v-5M1266.8 63.4v5M1351.1 462.2v-5M1351.1 63.4v5M1435.4 462.2v-5M1435.4 63.4v5M1519.6 462.2v-5M1519.6 63.4v5M1603.9 462.2v-5M1603.9 63.4v5M1688.2 462.2v-5M1688.2 63.4v5M1195.4 62.9h5M1712.7 62.9h-5M1195.4 145.1h5M1712.7 145.1h-5M1195.4 227.2h5M1712.7 227.2h-5M1195.4 309.4h5M1712.7 309.4h-5M1195.4 391.5h5M1712.7 391.5h-5" stroke="#4a4a4a" stroke-width="1.3"/>
</g>
<g class="tk" text-anchor="middle">
<text x="1268" y="492">150</text>
<text x="1352.3" y="492">200</text>
<text x="1436.6" y="492">250</text>
<text x="1520.8" y="492">300</text>
<text x="1605.1" y="492">350</text>
<text x="1689.4" y="492">400</text>
</g>
<g class="tk" text-anchor="end">
<text x="1186.5" y="70.1">150</text>
<text x="1186.5" y="152.3">100</text>
<text x="1186.5" y="234.4">50</text>
<text x="1186.5" y="316.6">0</text>
<text x="1186.5" y="398.7">-50</text>
</g>
<text class="lb" textLength="157.4" lengthAdjust="spacingAndGlyphs" x="1376.2" y="522">position (pixels)</text>
<text class="lb" textLength="112.8" lengthAdjust="spacingAndGlyphs" transform="translate(1142.5 319.4) rotate(-90)">CT number</text>
<text y="580.6" class="tb" font-size="33.5" fill="#000"><tspan x="1144.6">C</tspan> <tspan x="1201.2" textLength="526.5" lengthAdjust="spacingAndGlyphs">Mean CT numbers in three ROIs</tspan></text>
<g stroke="#757575" stroke-width="1.9" fill="none">
<rect x="1204.5" y="606.2" width="504.2" height="397.8"/>
<path d="M1267.5 1004v-4M1267.5 606.2v4M1330.5 1004v-4M1330.5 606.2v4M1393.6 1004v-4M1393.6 606.2v4M1456.6 1004v-4M1456.6 606.2v4M1519.6 1004v-4M1519.6 606.2v4M1582.7 1004v-4M1582.7 606.2v4M1645.7 1004v-4M1645.7 606.2v4M1204.5 646.6h4M1708.7 646.6h-4M1204.5 703.9h4M1708.7 703.9h-4M1204.5 761.2h4M1708.7 761.2h-4M1204.5 818.6h4M1708.7 818.6h-4M1204.5 875.9h4M1708.7 875.9h-4M1204.5 933.2h4M1708.7 933.2h-4M1204.5 990.6h4M1708.7 990.6h-4" stroke="#4a4a4a" stroke-width="1.3"/>
</g>
<g stroke="#a2142f" stroke-width="1.9" fill="#fff">
<path d="M1260.8 742.1V788.2M1256.3 742.1h9M1256.3 788.2h9" fill="none"/>
<circle cx="1260.8" cy="765.5" r="4.5"/>
<path d="M1265.9 742.1V788.2M1261.4 742.1h9M1261.4 788.2h9" fill="none"/>
<circle cx="1265.9" cy="765.5" r="4.5"/>
<path d="M1271.1 742.1V788.2M1266.6 742.1h9M1266.6 788.2h9" fill="none"/>
<circle cx="1271.1" cy="765.5" r="4.5"/>
</g>
<g stroke="#0072bd" stroke-width="1.9" fill="#fff">
<path d="M1387.8 791.8V819.1M1383.3 791.8h9M1383.3 819.1h9" fill="none"/>
<circle cx="1387.8" cy="805.2" r="4.5"/>
<path d="M1392.5 782.2V815.8M1388 782.2h9M1388 815.8h9" fill="none"/>
<circle cx="1392.5" cy="799" r="4.5"/>
<path d="M1397.6 785.8V812.8M1393.1 785.8h9M1393.1 812.8h9" fill="none"/>
<circle cx="1397.6" cy="799.4" r="4.5"/>
</g>
<g stroke="#77ac30" stroke-width="1.9" fill="#fff">
<path d="M1513.8 750.6V785.6M1509.3 750.6h9M1509.3 785.6h9" fill="none"/>
<circle cx="1513.8" cy="767.9" r="4.5"/>
<path d="M1519.3 633.5V708.6M1514.8 633.5h9M1514.8 708.6h9" fill="none"/>
<circle cx="1519.3" cy="670.5" r="4.5"/>
<path d="M1524.3 659.3V693M1519.8 659.3h9M1519.8 693h9" fill="none"/>
<circle cx="1524.3" cy="676" r="4.5"/>
</g>
<g stroke="#edb120" stroke-width="1.9" fill="#fff">
<path d="M1640.3 926.5V990.4M1635.8 926.5h9M1635.8 990.4h9" fill="none"/>
<circle cx="1640.3" cy="959.3" r="4.5"/>
<path d="M1645.3 610.1V759.8M1640.8 610.1h9M1640.8 759.8h9" fill="none"/>
<circle cx="1645.3" cy="685.1" r="4.5"/>
<path d="M1650.8 688.4V728M1646.3 688.4h9M1646.3 728h9" fill="none"/>
<circle cx="1650.8" cy="708.3" r="4.5"/>
</g>
<g class="ck" text-anchor="end">
<text x="1193.5" y="654.9">80</text>
<text x="1193.5" y="712.2">60</text>
<text x="1193.5" y="769.5">40</text>
<text x="1193.5" y="826.9">20</text>
<text x="1193.5" y="884.2">0</text>
<text x="1193.5" y="941.5">-20</text>
<text x="1193.5" y="998.9">-40</text>
</g>
<g class="ck">
<text textLength="27" lengthAdjust="spacingAndGlyphs" x="1250" y="1040.5">CT</text>
<text textLength="113.5" lengthAdjust="spacingAndGlyphs" x="1327.3" y="1040.5">HyperSight</text>
<text textLength="52.5" lengthAdjust="spacingAndGlyphs" x="1352" y="1070">CBCT</text>
<text textLength="93" lengthAdjust="spacingAndGlyphs" x="1474.2" y="1040.5">Standard</text>
<text textLength="52" lengthAdjust="spacingAndGlyphs" x="1496" y="1070">CBCT</text>
<text textLength="106.5" lengthAdjust="spacingAndGlyphs" x="1600.3" y="1040.5">TrueBeam</text>
<text textLength="52.5" lengthAdjust="spacingAndGlyphs" x="1621.3" y="1070">CBCT</text>
</g>
<text class="ck" textLength="165.4" lengthAdjust="spacingAndGlyphs" transform="translate(1154.8 880.6) rotate(-90)">CT number (HU)</text>
</svg></body></html>
